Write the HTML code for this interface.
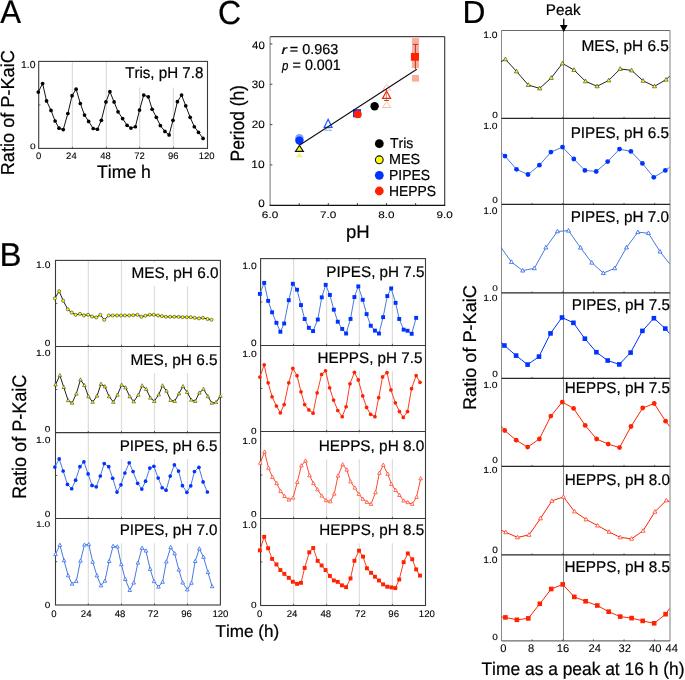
<!DOCTYPE html>
<html><head><meta charset="utf-8"><style>
html,body{margin:0;padding:0;background:#fff;}
svg{display:block;will-change:transform;}
text{font-family:"Liberation Sans",sans-serif;font-kerning:none;text-rendering:geometricPrecision;stroke:#000;}
</style></head><body>
<svg width="685" height="680" viewBox="0 0 685 680">
<rect width="685" height="680" fill="#fff"/>
<text x="0.14" y="23.4" font-size="32.7" textLength="20.82" lengthAdjust="spacingAndGlyphs" fill="#000" stroke-width="0.22">A</text>
<line x1="72.4" y1="61.4" x2="72.4" y2="148.4" stroke="#dcdcdc" stroke-width="1.2"/>
<line x1="106.4" y1="61.4" x2="106.4" y2="148.4" stroke="#dcdcdc" stroke-width="1.2"/>
<line x1="139.7" y1="87.5" x2="139.7" y2="148.4" stroke="#dcdcdc" stroke-width="1.2"/>
<line x1="173.4" y1="87.5" x2="173.4" y2="148.4" stroke="#dcdcdc" stroke-width="1.2"/>
<rect x="38.7" y="61.4" width="168.8" height="87.0" fill="none" stroke="#3a3a3a" stroke-width="1.1"/>
<line x1="38.7" y1="104.9" x2="40.5" y2="104.9" stroke="#3a3a3a" stroke-width="0.8"/>
<line x1="72.4" y1="148.4" x2="72.4" y2="146.8" stroke="#3a3a3a" stroke-width="0.8"/>
<line x1="106.4" y1="148.4" x2="106.4" y2="146.8" stroke="#3a3a3a" stroke-width="0.8"/>
<line x1="139.7" y1="148.4" x2="139.7" y2="146.8" stroke="#3a3a3a" stroke-width="0.8"/>
<line x1="173.4" y1="148.4" x2="173.4" y2="146.8" stroke="#3a3a3a" stroke-width="0.8"/>
<polyline points="38.28,92.08 42.62,83.54 46.56,100.88 51.03,110.47 55.1,120.99 59.04,128.21 63.25,129.53 67.85,113.5 72.05,95.63 76.12,89.19 80.33,103.51 84.53,115.07 88.61,121.38 93.21,128.48 97.41,129.26 101.35,120.33 105.95,101.93 109.89,91.69 114.1,101.93 118.04,111.79 122.64,118.62 127.07,125.35 130.95,128.12 135.39,126.73 139.55,110.09 143.71,95.11 148.29,96.78 152.17,109.26 156.33,117.3 160.35,125.62 164.93,131.45 169.09,134.92 172.98,120.35 177.41,101.63 181.57,95.11 185.74,105.79 190.17,117.3 194.33,126.73 198.5,132.28 203.07,138.38" fill="none" stroke="#111" stroke-width="1.0" stroke-linejoin="round"/>
<circle cx="38.28" cy="92.08" r="1.85" fill="#000" stroke="none" stroke-width="0"/><circle cx="42.62" cy="83.54" r="1.85" fill="#000" stroke="none" stroke-width="0"/><circle cx="46.56" cy="100.88" r="1.85" fill="#000" stroke="none" stroke-width="0"/><circle cx="51.03" cy="110.47" r="1.85" fill="#000" stroke="none" stroke-width="0"/><circle cx="55.1" cy="120.99" r="1.85" fill="#000" stroke="none" stroke-width="0"/><circle cx="59.04" cy="128.21" r="1.85" fill="#000" stroke="none" stroke-width="0"/><circle cx="63.25" cy="129.53" r="1.85" fill="#000" stroke="none" stroke-width="0"/><circle cx="67.85" cy="113.5" r="1.85" fill="#000" stroke="none" stroke-width="0"/><circle cx="72.05" cy="95.63" r="1.85" fill="#000" stroke="none" stroke-width="0"/><circle cx="76.12" cy="89.19" r="1.85" fill="#000" stroke="none" stroke-width="0"/><circle cx="80.33" cy="103.51" r="1.85" fill="#000" stroke="none" stroke-width="0"/><circle cx="84.53" cy="115.07" r="1.85" fill="#000" stroke="none" stroke-width="0"/><circle cx="88.61" cy="121.38" r="1.85" fill="#000" stroke="none" stroke-width="0"/><circle cx="93.21" cy="128.48" r="1.85" fill="#000" stroke="none" stroke-width="0"/><circle cx="97.41" cy="129.26" r="1.85" fill="#000" stroke="none" stroke-width="0"/><circle cx="101.35" cy="120.33" r="1.85" fill="#000" stroke="none" stroke-width="0"/><circle cx="105.95" cy="101.93" r="1.85" fill="#000" stroke="none" stroke-width="0"/><circle cx="109.89" cy="91.69" r="1.85" fill="#000" stroke="none" stroke-width="0"/><circle cx="114.1" cy="101.93" r="1.85" fill="#000" stroke="none" stroke-width="0"/><circle cx="118.04" cy="111.79" r="1.85" fill="#000" stroke="none" stroke-width="0"/><circle cx="122.64" cy="118.62" r="1.85" fill="#000" stroke="none" stroke-width="0"/><circle cx="127.07" cy="125.35" r="1.85" fill="#000" stroke="none" stroke-width="0"/><circle cx="130.95" cy="128.12" r="1.85" fill="#000" stroke="none" stroke-width="0"/><circle cx="135.39" cy="126.73" r="1.85" fill="#000" stroke="none" stroke-width="0"/><circle cx="139.55" cy="110.09" r="1.85" fill="#000" stroke="none" stroke-width="0"/><circle cx="143.71" cy="95.11" r="1.85" fill="#000" stroke="none" stroke-width="0"/><circle cx="148.29" cy="96.78" r="1.85" fill="#000" stroke="none" stroke-width="0"/><circle cx="152.17" cy="109.26" r="1.85" fill="#000" stroke="none" stroke-width="0"/><circle cx="156.33" cy="117.3" r="1.85" fill="#000" stroke="none" stroke-width="0"/><circle cx="160.35" cy="125.62" r="1.85" fill="#000" stroke="none" stroke-width="0"/><circle cx="164.93" cy="131.45" r="1.85" fill="#000" stroke="none" stroke-width="0"/><circle cx="169.09" cy="134.92" r="1.85" fill="#000" stroke="none" stroke-width="0"/><circle cx="172.98" cy="120.35" r="1.85" fill="#000" stroke="none" stroke-width="0"/><circle cx="177.41" cy="101.63" r="1.85" fill="#000" stroke="none" stroke-width="0"/><circle cx="181.57" cy="95.11" r="1.85" fill="#000" stroke="none" stroke-width="0"/><circle cx="185.74" cy="105.79" r="1.85" fill="#000" stroke="none" stroke-width="0"/><circle cx="190.17" cy="117.3" r="1.85" fill="#000" stroke="none" stroke-width="0"/><circle cx="194.33" cy="126.73" r="1.85" fill="#000" stroke="none" stroke-width="0"/><circle cx="198.5" cy="132.28" r="1.85" fill="#000" stroke="none" stroke-width="0"/><circle cx="203.07" cy="138.38" r="1.85" fill="#000" stroke="none" stroke-width="0"/>
<text x="125.16" y="77.7" font-size="15.7" textLength="78.2" lengthAdjust="spacingAndGlyphs" fill="#000" stroke-width="0.22">Tris, pH 7.8</text>
<text x="21.01" y="67.9" font-size="10.17" textLength="14.5" lengthAdjust="spacingAndGlyphs" fill="#000" stroke-width="0.1">1.0</text>
<text x="30" y="149.1" font-size="7.88" textLength="5.7" lengthAdjust="spacingAndGlyphs" fill="#000" stroke-width="0.1">0</text>
<text x="36.07" y="158.7" font-size="9.46" textLength="5.26" lengthAdjust="spacingAndGlyphs" fill="#000" stroke-width="0.1">0</text>
<text x="66.14" y="158.7" font-size="9.46" textLength="10.52" lengthAdjust="spacingAndGlyphs" fill="#000" stroke-width="0.1">24</text>
<text x="100.24" y="158.7" font-size="9.46" textLength="10.52" lengthAdjust="spacingAndGlyphs" fill="#000" stroke-width="0.1">48</text>
<text x="134.34" y="158.7" font-size="9.46" textLength="10.52" lengthAdjust="spacingAndGlyphs" fill="#000" stroke-width="0.1">72</text>
<text x="167.93" y="158.7" font-size="9.46" textLength="10.52" lengthAdjust="spacingAndGlyphs" fill="#000" stroke-width="0.1">96</text>
<text x="198.74" y="158.7" font-size="9.46" textLength="15.78" lengthAdjust="spacingAndGlyphs" fill="#000" stroke-width="0.1">120</text>
<text x="97" y="178.4" font-size="18.17" textLength="53.94" lengthAdjust="spacingAndGlyphs" fill="#000" stroke-width="0.22">Time h</text>
<g transform="rotate(-90)"><text x="-175.29" y="13.8" font-size="18.75" textLength="125.08" lengthAdjust="spacingAndGlyphs" fill="#000" stroke-width="0.22">Ratio of P-KaiC</text></g>
<text x="218.07" y="23.6" font-size="33.33" textLength="23.15" lengthAdjust="spacingAndGlyphs" fill="#000" stroke-width="0.22">C</text>
<line x1="270.1" y1="36.6" x2="444.7" y2="36.6" stroke="#444" stroke-width="1.1"/>
<line x1="444.7" y1="36.6" x2="444.7" y2="205.3" stroke="#333" stroke-width="1.1"/>
<line x1="270.1" y1="36.6" x2="270.1" y2="205.3" stroke="#8c8c8c" stroke-width="1.2"/>
<line x1="269.6" y1="205.3" x2="445.2" y2="205.3" stroke="#111" stroke-width="1.2"/>
<line x1="270.1" y1="164.95" x2="272.4" y2="164.95" stroke="#333" stroke-width="0.9"/>
<line x1="270.1" y1="124.6" x2="272.4" y2="124.6" stroke="#333" stroke-width="0.9"/>
<line x1="270.1" y1="84.25" x2="272.4" y2="84.25" stroke="#333" stroke-width="0.9"/>
<line x1="270.1" y1="43.9" x2="272.4" y2="43.9" stroke="#333" stroke-width="0.9"/>
<line x1="299.2" y1="205.3" x2="299.2" y2="203" stroke="#333" stroke-width="0.9"/>
<line x1="328.3" y1="205.3" x2="328.3" y2="203" stroke="#333" stroke-width="0.9"/>
<line x1="357.4" y1="205.3" x2="357.4" y2="203" stroke="#333" stroke-width="0.9"/>
<line x1="386.5" y1="205.3" x2="386.5" y2="203" stroke="#333" stroke-width="0.9"/>
<line x1="415.6" y1="205.3" x2="415.6" y2="203" stroke="#333" stroke-width="0.9"/>
<text x="258.24" y="206.95" font-size="10.74" textLength="6.52" lengthAdjust="spacingAndGlyphs" fill="#000" stroke-width="0.1">0</text>
<text x="251.38" y="167.55" font-size="10.74" textLength="13.39" lengthAdjust="spacingAndGlyphs" fill="#000" stroke-width="0.1">10</text>
<text x="251.71" y="127.85" font-size="10.74" textLength="13.05" lengthAdjust="spacingAndGlyphs" fill="#000" stroke-width="0.1">20</text>
<text x="251.86" y="88.25" font-size="10.74" textLength="12.89" lengthAdjust="spacingAndGlyphs" fill="#000" stroke-width="0.1">30</text>
<text x="252.04" y="48.75" font-size="10.74" textLength="12.71" lengthAdjust="spacingAndGlyphs" fill="#000" stroke-width="0.1">40</text>
<text x="261.85" y="218.4" font-size="9.46" textLength="16.36" lengthAdjust="spacingAndGlyphs" fill="#000" stroke-width="0.1">6.0</text>
<text x="320.05" y="218.4" font-size="9.46" textLength="16.36" lengthAdjust="spacingAndGlyphs" fill="#000" stroke-width="0.1">7.0</text>
<text x="378.34" y="218.4" font-size="9.46" textLength="16.27" lengthAdjust="spacingAndGlyphs" fill="#000" stroke-width="0.1">8.0</text>
<text x="436.5" y="218.4" font-size="9.46" textLength="16.31" lengthAdjust="spacingAndGlyphs" fill="#000" stroke-width="0.1">9.0</text>
<text x="345.9" y="238.2" font-size="18.31" textLength="23.71" lengthAdjust="spacingAndGlyphs" fill="#000" stroke-width="0.22">pH</text>
<g transform="rotate(-90)"><text x="-161.43" y="243.6" font-size="19.33" textLength="76.3" lengthAdjust="spacingAndGlyphs" fill="#000" stroke-width="0.22">Period (h)</text></g>
<text x="281.42" y="53.6" font-size="12.45" textLength="5.52" lengthAdjust="spacingAndGlyphs" font-style="italic" fill="#000" stroke-width="0.22">r</text>
<text x="289.8" y="53.6" font-size="14.33" textLength="48.54" lengthAdjust="spacingAndGlyphs" fill="#000" stroke-width="0.22">= 0.963</text>
<text x="281.99" y="69.9" font-size="13.02" textLength="6.38" lengthAdjust="spacingAndGlyphs" font-style="italic" fill="#000" stroke-width="0.22">p</text>
<text x="292.6" y="69.9" font-size="15.04" textLength="48.1" lengthAdjust="spacingAndGlyphs" fill="#000" stroke-width="0.22">= 0.001</text>
<circle cx="299.4" cy="138.3" r="4.2" fill="#5f86ff" opacity="0.8"/>
<circle cx="299.4" cy="140.6" r="4.2" fill="#0033ff"/>
<path d="M299.5,152.6L303.3,157.2L295.7,157.2Z" fill="#f6f08a"/>
<path d="M299.4,145.4L303.4,151.4L295.4,151.4Z" fill="#ffff00" stroke="#111" stroke-width="1.1" stroke-linejoin="miter"/>
<path d="M328.1,128.2L331.6,130.6L324.6,130.6Z" fill="none" stroke="#9ab4ff" stroke-width="0.9"/>
<path d="M328.1,119.3L332.0,127.4L324.2,127.4Z" fill="none" stroke="#1f55ff" stroke-width="1.2"/>
<rect x="353" y="109.2" width="8" height="8" fill="#0033ff"/>
<circle cx="357.7" cy="114.2" r="4.0" fill="#ff2200"/>
<circle cx="374.6" cy="106.2" r="4.2" fill="#000"/>
<path d="M386.6,84.3L390.8,90.2L382.4,90.2Z" fill="none" stroke="#ffb4a4" stroke-width="0.9"/>
<path d="M386.6,101.5L390.8,107.5L382.4,107.5Z" fill="none" stroke="#ffb4a4" stroke-width="0.9"/>
<line x1="386.5" y1="88.5" x2="386.5" y2="100.5" stroke="#999" stroke-width="0.8"/>
<line x1="384" y1="100.5" x2="389" y2="100.5" stroke="#a04030" stroke-width="0.9"/>
<path d="M386.6,91.0L390.6,98.4L382.6,98.4Z" fill="none" stroke="#ff2200" stroke-width="1.2"/>
<rect x="412" y="38.1" width="7" height="30" fill="#ffab99"/>
<rect x="412" y="75" width="7" height="6.7" fill="#ffab99"/>
<line x1="415.4" y1="44.4" x2="415.4" y2="69" stroke="#a04030" stroke-width="1.0"/>
<line x1="413.1" y1="44.4" x2="418.2" y2="44.4" stroke="#a04030" stroke-width="1.0"/>
<rect x="410.9" y="53" width="8.1" height="7.7" fill="#ff2200"/>
<line x1="299" y1="145.4" x2="416.8" y2="69.3" stroke="#111" stroke-width="1.15"/>
<circle cx="379.3" cy="143.7" r="4.4" fill="#000"/>
<circle cx="379.3" cy="159.8" r="3.9" fill="#ffff00" stroke="#111" stroke-width="1.1"/>
<circle cx="379.3" cy="175.3" r="4.4" fill="#0033ff"/>
<circle cx="379.3" cy="191.0" r="4.4" fill="#ff2200"/>
<text x="389.88" y="148.2" font-size="14.39" textLength="23.42" lengthAdjust="spacingAndGlyphs" fill="#000" stroke-width="0.22">Tris</text>
<text x="389.02" y="164" font-size="14.53" textLength="31.14" lengthAdjust="spacingAndGlyphs" fill="#000" stroke-width="0.22">MES</text>
<text x="389.06" y="179.8" font-size="14.53" textLength="41.08" lengthAdjust="spacingAndGlyphs" fill="#000" stroke-width="0.22">PIPES</text>
<text x="389.06" y="195.5" font-size="14.53" textLength="47.08" lengthAdjust="spacingAndGlyphs" fill="#000" stroke-width="0.22">HEPPS</text>
<text x="-0.61" y="265.9" font-size="32.99" textLength="22.06" lengthAdjust="spacingAndGlyphs" fill="#000" stroke-width="0.22">B</text>
<g transform="rotate(-90)"><text x="-499.08" y="25.9" font-size="19.62" textLength="124.47" lengthAdjust="spacingAndGlyphs" fill="#000" stroke-width="0.22">Ratio of P-KaiC</text></g>
<line x1="88.3" y1="260.4" x2="88.3" y2="346.4" stroke="#dcdcdc" stroke-width="1.2"/>
<line x1="121.5" y1="260.4" x2="121.5" y2="346.4" stroke="#dcdcdc" stroke-width="1.2"/>
<line x1="154.5" y1="260.4" x2="154.5" y2="262.4" stroke="#dcdcdc" stroke-width="1.2"/>
<line x1="154.5" y1="286.2" x2="154.5" y2="346.4" stroke="#dcdcdc" stroke-width="1.2"/>
<line x1="187.5" y1="260.4" x2="187.5" y2="262.4" stroke="#dcdcdc" stroke-width="1.2"/>
<line x1="187.5" y1="286.2" x2="187.5" y2="346.4" stroke="#dcdcdc" stroke-width="1.2"/>
<line x1="88.3" y1="346.4" x2="88.3" y2="432.6" stroke="#dcdcdc" stroke-width="1.2"/>
<line x1="121.5" y1="346.4" x2="121.5" y2="432.6" stroke="#dcdcdc" stroke-width="1.2"/>
<line x1="154.5" y1="346.4" x2="154.5" y2="348.4" stroke="#dcdcdc" stroke-width="1.2"/>
<line x1="154.5" y1="373.1" x2="154.5" y2="432.6" stroke="#dcdcdc" stroke-width="1.2"/>
<line x1="187.5" y1="346.4" x2="187.5" y2="348.4" stroke="#dcdcdc" stroke-width="1.2"/>
<line x1="187.5" y1="373.1" x2="187.5" y2="432.6" stroke="#dcdcdc" stroke-width="1.2"/>
<line x1="88.3" y1="432.6" x2="88.3" y2="518.4" stroke="#dcdcdc" stroke-width="1.2"/>
<line x1="121.5" y1="432.6" x2="121.5" y2="434.6" stroke="#dcdcdc" stroke-width="1.2"/>
<line x1="121.5" y1="458.9" x2="121.5" y2="518.4" stroke="#dcdcdc" stroke-width="1.2"/>
<line x1="154.5" y1="432.6" x2="154.5" y2="434.6" stroke="#dcdcdc" stroke-width="1.2"/>
<line x1="154.5" y1="458.9" x2="154.5" y2="518.4" stroke="#dcdcdc" stroke-width="1.2"/>
<line x1="187.5" y1="432.6" x2="187.5" y2="434.6" stroke="#dcdcdc" stroke-width="1.2"/>
<line x1="187.5" y1="458.9" x2="187.5" y2="518.4" stroke="#dcdcdc" stroke-width="1.2"/>
<line x1="88.3" y1="518.4" x2="88.3" y2="605" stroke="#dcdcdc" stroke-width="1.2"/>
<line x1="121.5" y1="518.4" x2="121.5" y2="520.4" stroke="#dcdcdc" stroke-width="1.2"/>
<line x1="121.5" y1="543.3" x2="121.5" y2="605" stroke="#dcdcdc" stroke-width="1.2"/>
<line x1="154.5" y1="518.4" x2="154.5" y2="520.4" stroke="#dcdcdc" stroke-width="1.2"/>
<line x1="154.5" y1="543.3" x2="154.5" y2="605" stroke="#dcdcdc" stroke-width="1.2"/>
<line x1="187.5" y1="518.4" x2="187.5" y2="520.4" stroke="#dcdcdc" stroke-width="1.2"/>
<line x1="187.5" y1="543.3" x2="187.5" y2="605" stroke="#dcdcdc" stroke-width="1.2"/>
<line x1="55.5" y1="303.4" x2="57.3" y2="303.4" stroke="#3a3a3a" stroke-width="0.8"/>
<line x1="88.3" y1="346.4" x2="88.3" y2="344.8" stroke="#3a3a3a" stroke-width="0.8"/>
<line x1="121.5" y1="346.4" x2="121.5" y2="344.8" stroke="#3a3a3a" stroke-width="0.8"/>
<line x1="154.5" y1="346.4" x2="154.5" y2="344.8" stroke="#3a3a3a" stroke-width="0.8"/>
<line x1="187.5" y1="346.4" x2="187.5" y2="344.8" stroke="#3a3a3a" stroke-width="0.8"/>
<line x1="55.5" y1="389.5" x2="57.3" y2="389.5" stroke="#3a3a3a" stroke-width="0.8"/>
<line x1="88.3" y1="432.6" x2="88.3" y2="431" stroke="#3a3a3a" stroke-width="0.8"/>
<line x1="121.5" y1="432.6" x2="121.5" y2="431" stroke="#3a3a3a" stroke-width="0.8"/>
<line x1="154.5" y1="432.6" x2="154.5" y2="431" stroke="#3a3a3a" stroke-width="0.8"/>
<line x1="187.5" y1="432.6" x2="187.5" y2="431" stroke="#3a3a3a" stroke-width="0.8"/>
<line x1="55.5" y1="475.5" x2="57.3" y2="475.5" stroke="#3a3a3a" stroke-width="0.8"/>
<line x1="88.3" y1="518.4" x2="88.3" y2="516.8" stroke="#3a3a3a" stroke-width="0.8"/>
<line x1="121.5" y1="518.4" x2="121.5" y2="516.8" stroke="#3a3a3a" stroke-width="0.8"/>
<line x1="154.5" y1="518.4" x2="154.5" y2="516.8" stroke="#3a3a3a" stroke-width="0.8"/>
<line x1="187.5" y1="518.4" x2="187.5" y2="516.8" stroke="#3a3a3a" stroke-width="0.8"/>
<line x1="55.5" y1="561.7" x2="57.3" y2="561.7" stroke="#3a3a3a" stroke-width="0.8"/>
<line x1="88.3" y1="605" x2="88.3" y2="603.4" stroke="#3a3a3a" stroke-width="0.8"/>
<line x1="121.5" y1="605" x2="121.5" y2="603.4" stroke="#3a3a3a" stroke-width="0.8"/>
<line x1="154.5" y1="605" x2="154.5" y2="603.4" stroke="#3a3a3a" stroke-width="0.8"/>
<line x1="187.5" y1="605" x2="187.5" y2="603.4" stroke="#3a3a3a" stroke-width="0.8"/>
<rect x="55.5" y="260.4" width="164.9" height="344.6" fill="none" stroke="#3a3a3a" stroke-width="1.1"/>
<line x1="55.5" y1="346.4" x2="220.4" y2="346.4" stroke="#3a3a3a" stroke-width="1.05"/>
<line x1="55.5" y1="432.6" x2="220.4" y2="432.6" stroke="#3a3a3a" stroke-width="1.05"/>
<line x1="55.5" y1="518.4" x2="220.4" y2="518.4" stroke="#3a3a3a" stroke-width="1.05"/>
<line x1="293.6" y1="258.6" x2="293.6" y2="345.4" stroke="#dcdcdc" stroke-width="1.2"/>
<line x1="326.6" y1="258.6" x2="326.6" y2="260.6" stroke="#dcdcdc" stroke-width="1.2"/>
<line x1="326.6" y1="285.2" x2="326.6" y2="345.4" stroke="#dcdcdc" stroke-width="1.2"/>
<line x1="359.3" y1="258.6" x2="359.3" y2="260.6" stroke="#dcdcdc" stroke-width="1.2"/>
<line x1="359.3" y1="285.2" x2="359.3" y2="345.4" stroke="#dcdcdc" stroke-width="1.2"/>
<line x1="392.4" y1="258.6" x2="392.4" y2="260.6" stroke="#dcdcdc" stroke-width="1.2"/>
<line x1="392.4" y1="285.2" x2="392.4" y2="345.4" stroke="#dcdcdc" stroke-width="1.2"/>
<line x1="293.6" y1="345.4" x2="293.6" y2="431.5" stroke="#dcdcdc" stroke-width="1.2"/>
<line x1="326.6" y1="345.4" x2="326.6" y2="347.4" stroke="#dcdcdc" stroke-width="1.2"/>
<line x1="326.6" y1="371.2" x2="326.6" y2="431.5" stroke="#dcdcdc" stroke-width="1.2"/>
<line x1="359.3" y1="345.4" x2="359.3" y2="347.4" stroke="#dcdcdc" stroke-width="1.2"/>
<line x1="359.3" y1="371.2" x2="359.3" y2="431.5" stroke="#dcdcdc" stroke-width="1.2"/>
<line x1="392.4" y1="345.4" x2="392.4" y2="347.4" stroke="#dcdcdc" stroke-width="1.2"/>
<line x1="392.4" y1="371.2" x2="392.4" y2="431.5" stroke="#dcdcdc" stroke-width="1.2"/>
<line x1="293.6" y1="431.5" x2="293.6" y2="518.4" stroke="#dcdcdc" stroke-width="1.2"/>
<line x1="326.6" y1="431.5" x2="326.6" y2="433.5" stroke="#dcdcdc" stroke-width="1.2"/>
<line x1="326.6" y1="459.2" x2="326.6" y2="518.4" stroke="#dcdcdc" stroke-width="1.2"/>
<line x1="359.3" y1="431.5" x2="359.3" y2="433.5" stroke="#dcdcdc" stroke-width="1.2"/>
<line x1="359.3" y1="459.2" x2="359.3" y2="518.4" stroke="#dcdcdc" stroke-width="1.2"/>
<line x1="392.4" y1="431.5" x2="392.4" y2="433.5" stroke="#dcdcdc" stroke-width="1.2"/>
<line x1="392.4" y1="459.2" x2="392.4" y2="518.4" stroke="#dcdcdc" stroke-width="1.2"/>
<line x1="293.6" y1="518.4" x2="293.6" y2="605.5" stroke="#dcdcdc" stroke-width="1.2"/>
<line x1="326.6" y1="518.4" x2="326.6" y2="520.4" stroke="#dcdcdc" stroke-width="1.2"/>
<line x1="326.6" y1="543.3" x2="326.6" y2="605.5" stroke="#dcdcdc" stroke-width="1.2"/>
<line x1="359.3" y1="518.4" x2="359.3" y2="520.4" stroke="#dcdcdc" stroke-width="1.2"/>
<line x1="359.3" y1="543.3" x2="359.3" y2="605.5" stroke="#dcdcdc" stroke-width="1.2"/>
<line x1="392.4" y1="518.4" x2="392.4" y2="520.4" stroke="#dcdcdc" stroke-width="1.2"/>
<line x1="392.4" y1="543.3" x2="392.4" y2="605.5" stroke="#dcdcdc" stroke-width="1.2"/>
<line x1="260.6" y1="302" x2="262.4" y2="302" stroke="#3a3a3a" stroke-width="0.8"/>
<line x1="293.6" y1="345.4" x2="293.6" y2="343.8" stroke="#3a3a3a" stroke-width="0.8"/>
<line x1="326.6" y1="345.4" x2="326.6" y2="343.8" stroke="#3a3a3a" stroke-width="0.8"/>
<line x1="359.3" y1="345.4" x2="359.3" y2="343.8" stroke="#3a3a3a" stroke-width="0.8"/>
<line x1="392.4" y1="345.4" x2="392.4" y2="343.8" stroke="#3a3a3a" stroke-width="0.8"/>
<line x1="260.6" y1="388.45" x2="262.4" y2="388.45" stroke="#3a3a3a" stroke-width="0.8"/>
<line x1="293.6" y1="431.5" x2="293.6" y2="429.9" stroke="#3a3a3a" stroke-width="0.8"/>
<line x1="326.6" y1="431.5" x2="326.6" y2="429.9" stroke="#3a3a3a" stroke-width="0.8"/>
<line x1="359.3" y1="431.5" x2="359.3" y2="429.9" stroke="#3a3a3a" stroke-width="0.8"/>
<line x1="392.4" y1="431.5" x2="392.4" y2="429.9" stroke="#3a3a3a" stroke-width="0.8"/>
<line x1="260.6" y1="474.95" x2="262.4" y2="474.95" stroke="#3a3a3a" stroke-width="0.8"/>
<line x1="293.6" y1="518.4" x2="293.6" y2="516.8" stroke="#3a3a3a" stroke-width="0.8"/>
<line x1="326.6" y1="518.4" x2="326.6" y2="516.8" stroke="#3a3a3a" stroke-width="0.8"/>
<line x1="359.3" y1="518.4" x2="359.3" y2="516.8" stroke="#3a3a3a" stroke-width="0.8"/>
<line x1="392.4" y1="518.4" x2="392.4" y2="516.8" stroke="#3a3a3a" stroke-width="0.8"/>
<line x1="260.6" y1="561.95" x2="262.4" y2="561.95" stroke="#3a3a3a" stroke-width="0.8"/>
<line x1="293.6" y1="605.5" x2="293.6" y2="603.9" stroke="#3a3a3a" stroke-width="0.8"/>
<line x1="326.6" y1="605.5" x2="326.6" y2="603.9" stroke="#3a3a3a" stroke-width="0.8"/>
<line x1="359.3" y1="605.5" x2="359.3" y2="603.9" stroke="#3a3a3a" stroke-width="0.8"/>
<line x1="392.4" y1="605.5" x2="392.4" y2="603.9" stroke="#3a3a3a" stroke-width="0.8"/>
<rect x="260.6" y="258.6" width="164.89999999999998" height="346.9" fill="none" stroke="#3a3a3a" stroke-width="1.1"/>
<line x1="260.6" y1="345.4" x2="425.5" y2="345.4" stroke="#3a3a3a" stroke-width="1.05"/>
<line x1="260.6" y1="431.5" x2="425.5" y2="431.5" stroke="#3a3a3a" stroke-width="1.05"/>
<line x1="260.6" y1="518.4" x2="425.5" y2="518.4" stroke="#3a3a3a" stroke-width="1.05"/>
<polyline points="54.86,298.39 59.2,291.17 63.14,300.63 67.74,309.3 71.68,312.58 75.62,314.82 79.96,313.9 83.9,315.47 88.1,314.82 92.04,316.53 96.25,317.45 100.32,314.82 104.26,319.81 108.73,315.47 112.67,315.47 117.01,315.47 120.95,315.47 124.89,315.47 129.23,315.47 133.28,315.21 137.49,314.82 141.43,316.79 145.37,315.74 149.71,314.82 153.65,314.82 157.99,315.47 161.93,316.13 165.87,316.79 170.07,316.79 174.28,316.79 178.61,316.79 182.56,317.18 186.76,317.18 190.7,317.18 194.64,317.84 198.98,318.37 202.92,317.84 207.52,319.02 211.46,319.81" fill="none" stroke="#222" stroke-width="1.0" stroke-linejoin="round"/>
<circle cx="54.86" cy="298.39" r="1.55" fill="#ffff00" stroke="#333" stroke-width="0.6"/><circle cx="59.2" cy="291.17" r="1.55" fill="#ffff00" stroke="#333" stroke-width="0.6"/><circle cx="63.14" cy="300.63" r="1.55" fill="#ffff00" stroke="#333" stroke-width="0.6"/><circle cx="67.74" cy="309.3" r="1.55" fill="#ffff00" stroke="#333" stroke-width="0.6"/><circle cx="71.68" cy="312.58" r="1.55" fill="#ffff00" stroke="#333" stroke-width="0.6"/><circle cx="75.62" cy="314.82" r="1.55" fill="#ffff00" stroke="#333" stroke-width="0.6"/><circle cx="79.96" cy="313.9" r="1.55" fill="#ffff00" stroke="#333" stroke-width="0.6"/><circle cx="83.9" cy="315.47" r="1.55" fill="#ffff00" stroke="#333" stroke-width="0.6"/><circle cx="88.1" cy="314.82" r="1.55" fill="#ffff00" stroke="#333" stroke-width="0.6"/><circle cx="92.04" cy="316.53" r="1.55" fill="#ffff00" stroke="#333" stroke-width="0.6"/><circle cx="96.25" cy="317.45" r="1.55" fill="#ffff00" stroke="#333" stroke-width="0.6"/><circle cx="100.32" cy="314.82" r="1.55" fill="#ffff00" stroke="#333" stroke-width="0.6"/><circle cx="104.26" cy="319.81" r="1.55" fill="#ffff00" stroke="#333" stroke-width="0.6"/><circle cx="108.73" cy="315.47" r="1.55" fill="#ffff00" stroke="#333" stroke-width="0.6"/><circle cx="112.67" cy="315.47" r="1.55" fill="#ffff00" stroke="#333" stroke-width="0.6"/><circle cx="117.01" cy="315.47" r="1.55" fill="#ffff00" stroke="#333" stroke-width="0.6"/><circle cx="120.95" cy="315.47" r="1.55" fill="#ffff00" stroke="#333" stroke-width="0.6"/><circle cx="124.89" cy="315.47" r="1.55" fill="#ffff00" stroke="#333" stroke-width="0.6"/><circle cx="129.23" cy="315.47" r="1.55" fill="#ffff00" stroke="#333" stroke-width="0.6"/><circle cx="133.28" cy="315.21" r="1.55" fill="#ffff00" stroke="#333" stroke-width="0.6"/><circle cx="137.49" cy="314.82" r="1.55" fill="#ffff00" stroke="#333" stroke-width="0.6"/><circle cx="141.43" cy="316.79" r="1.55" fill="#ffff00" stroke="#333" stroke-width="0.6"/><circle cx="145.37" cy="315.74" r="1.55" fill="#ffff00" stroke="#333" stroke-width="0.6"/><circle cx="149.71" cy="314.82" r="1.55" fill="#ffff00" stroke="#333" stroke-width="0.6"/><circle cx="153.65" cy="314.82" r="1.55" fill="#ffff00" stroke="#333" stroke-width="0.6"/><circle cx="157.99" cy="315.47" r="1.55" fill="#ffff00" stroke="#333" stroke-width="0.6"/><circle cx="161.93" cy="316.13" r="1.55" fill="#ffff00" stroke="#333" stroke-width="0.6"/><circle cx="165.87" cy="316.79" r="1.55" fill="#ffff00" stroke="#333" stroke-width="0.6"/><circle cx="170.07" cy="316.79" r="1.55" fill="#ffff00" stroke="#333" stroke-width="0.6"/><circle cx="174.28" cy="316.79" r="1.55" fill="#ffff00" stroke="#333" stroke-width="0.6"/><circle cx="178.61" cy="316.79" r="1.55" fill="#ffff00" stroke="#333" stroke-width="0.6"/><circle cx="182.56" cy="317.18" r="1.55" fill="#ffff00" stroke="#333" stroke-width="0.6"/><circle cx="186.76" cy="317.18" r="1.55" fill="#ffff00" stroke="#333" stroke-width="0.6"/><circle cx="190.7" cy="317.18" r="1.55" fill="#ffff00" stroke="#333" stroke-width="0.6"/><circle cx="194.64" cy="317.84" r="1.55" fill="#ffff00" stroke="#333" stroke-width="0.6"/><circle cx="198.98" cy="318.37" r="1.55" fill="#ffff00" stroke="#333" stroke-width="0.6"/><circle cx="202.92" cy="317.84" r="1.55" fill="#ffff00" stroke="#333" stroke-width="0.6"/><circle cx="207.52" cy="319.02" r="1.55" fill="#ffff00" stroke="#333" stroke-width="0.6"/><circle cx="211.46" cy="319.81" r="1.55" fill="#ffff00" stroke="#333" stroke-width="0.6"/>
<polyline points="55.52,384.7 59.85,375.37 63.8,387.33 68.13,400.47 72.07,402.96 76.28,393.9 80.48,379.71 84.42,385.36 88.5,396.53 92.7,402.04 97.04,395.87 100.98,384.04 104.92,386.54 109.12,396.53 113.33,402.04 117.4,394.95 121.61,384.96 125.55,387.59 129.75,396.53 133.74,401.61 138.32,394.95 142.21,385.66 146.23,389.13 150.39,397.86 154.27,401.19 158.71,394.67 162.59,385.66 166.48,390.93 170.64,400.22 174.66,401.19 178.96,393.56 182.98,386.35 187.14,392.18 191.3,399.94 195.19,401.19 199.35,392.87 203.51,389.13 207.95,396.48 211.83,403 215.99,402.3 220.43,396.06" fill="none" stroke="#222" stroke-width="1.0" stroke-linejoin="round"/>
<path d="M55.52,382.76L57.32,386L53.72,386Z" fill="#ffff00" stroke="#333" stroke-width="0.55" stroke-linejoin="miter"/><path d="M59.85,373.43L61.65,376.67L58.05,376.67Z" fill="#ffff00" stroke="#333" stroke-width="0.55" stroke-linejoin="miter"/><path d="M63.8,385.38L65.6,388.62L62,388.62Z" fill="#ffff00" stroke="#333" stroke-width="0.55" stroke-linejoin="miter"/><path d="M68.13,398.52L69.93,401.76L66.33,401.76Z" fill="#ffff00" stroke="#333" stroke-width="0.55" stroke-linejoin="miter"/><path d="M72.07,401.02L73.87,404.26L70.27,404.26Z" fill="#ffff00" stroke="#333" stroke-width="0.55" stroke-linejoin="miter"/><path d="M76.28,391.95L78.08,395.19L74.48,395.19Z" fill="#ffff00" stroke="#333" stroke-width="0.55" stroke-linejoin="miter"/><path d="M80.48,377.76L82.28,381L78.68,381Z" fill="#ffff00" stroke="#333" stroke-width="0.55" stroke-linejoin="miter"/><path d="M84.42,383.41L86.22,386.65L82.62,386.65Z" fill="#ffff00" stroke="#333" stroke-width="0.55" stroke-linejoin="miter"/><path d="M88.5,394.58L90.3,397.82L86.7,397.82Z" fill="#ffff00" stroke="#333" stroke-width="0.55" stroke-linejoin="miter"/><path d="M92.7,400.1L94.5,403.34L90.9,403.34Z" fill="#ffff00" stroke="#333" stroke-width="0.55" stroke-linejoin="miter"/><path d="M97.04,393.93L98.84,397.17L95.24,397.17Z" fill="#ffff00" stroke="#333" stroke-width="0.55" stroke-linejoin="miter"/><path d="M100.98,382.1L102.78,385.34L99.18,385.34Z" fill="#ffff00" stroke="#333" stroke-width="0.55" stroke-linejoin="miter"/><path d="M104.92,384.6L106.72,387.84L103.12,387.84Z" fill="#ffff00" stroke="#333" stroke-width="0.55" stroke-linejoin="miter"/><path d="M109.12,394.58L110.92,397.82L107.32,397.82Z" fill="#ffff00" stroke="#333" stroke-width="0.55" stroke-linejoin="miter"/><path d="M113.33,400.1L115.13,403.34L111.53,403.34Z" fill="#ffff00" stroke="#333" stroke-width="0.55" stroke-linejoin="miter"/><path d="M117.4,393.01L119.2,396.25L115.6,396.25Z" fill="#ffff00" stroke="#333" stroke-width="0.55" stroke-linejoin="miter"/><path d="M121.61,383.02L123.41,386.26L119.81,386.26Z" fill="#ffff00" stroke="#333" stroke-width="0.55" stroke-linejoin="miter"/><path d="M125.55,385.65L127.35,388.89L123.75,388.89Z" fill="#ffff00" stroke="#333" stroke-width="0.55" stroke-linejoin="miter"/><path d="M129.75,394.58L131.55,397.82L127.95,397.82Z" fill="#ffff00" stroke="#333" stroke-width="0.55" stroke-linejoin="miter"/><path d="M133.74,399.66L135.54,402.9L131.94,402.9Z" fill="#ffff00" stroke="#333" stroke-width="0.55" stroke-linejoin="miter"/><path d="M138.32,393.01L140.12,396.25L136.52,396.25Z" fill="#ffff00" stroke="#333" stroke-width="0.55" stroke-linejoin="miter"/><path d="M142.21,383.71L144.01,386.95L140.41,386.95Z" fill="#ffff00" stroke="#333" stroke-width="0.55" stroke-linejoin="miter"/><path d="M146.23,387.18L148.03,390.42L144.43,390.42Z" fill="#ffff00" stroke="#333" stroke-width="0.55" stroke-linejoin="miter"/><path d="M150.39,395.92L152.19,399.16L148.59,399.16Z" fill="#ffff00" stroke="#333" stroke-width="0.55" stroke-linejoin="miter"/><path d="M154.27,399.25L156.07,402.49L152.47,402.49Z" fill="#ffff00" stroke="#333" stroke-width="0.55" stroke-linejoin="miter"/><path d="M158.71,392.73L160.51,395.97L156.91,395.97Z" fill="#ffff00" stroke="#333" stroke-width="0.55" stroke-linejoin="miter"/><path d="M162.59,383.71L164.39,386.95L160.79,386.95Z" fill="#ffff00" stroke="#333" stroke-width="0.55" stroke-linejoin="miter"/><path d="M166.48,388.99L168.28,392.23L164.68,392.23Z" fill="#ffff00" stroke="#333" stroke-width="0.55" stroke-linejoin="miter"/><path d="M170.64,398.28L172.44,401.52L168.84,401.52Z" fill="#ffff00" stroke="#333" stroke-width="0.55" stroke-linejoin="miter"/><path d="M174.66,399.25L176.46,402.49L172.86,402.49Z" fill="#ffff00" stroke="#333" stroke-width="0.55" stroke-linejoin="miter"/><path d="M178.96,391.62L180.76,394.86L177.16,394.86Z" fill="#ffff00" stroke="#333" stroke-width="0.55" stroke-linejoin="miter"/><path d="M182.98,384.41L184.78,387.65L181.18,387.65Z" fill="#ffff00" stroke="#333" stroke-width="0.55" stroke-linejoin="miter"/><path d="M187.14,390.23L188.94,393.47L185.34,393.47Z" fill="#ffff00" stroke="#333" stroke-width="0.55" stroke-linejoin="miter"/><path d="M191.3,398L193.1,401.24L189.5,401.24Z" fill="#ffff00" stroke="#333" stroke-width="0.55" stroke-linejoin="miter"/><path d="M195.19,399.25L196.99,402.49L193.39,402.49Z" fill="#ffff00" stroke="#333" stroke-width="0.55" stroke-linejoin="miter"/><path d="M199.35,390.93L201.15,394.17L197.55,394.17Z" fill="#ffff00" stroke="#333" stroke-width="0.55" stroke-linejoin="miter"/><path d="M203.51,387.18L205.31,390.42L201.71,390.42Z" fill="#ffff00" stroke="#333" stroke-width="0.55" stroke-linejoin="miter"/><path d="M207.95,394.53L209.75,397.77L206.15,397.77Z" fill="#ffff00" stroke="#333" stroke-width="0.55" stroke-linejoin="miter"/><path d="M211.83,401.05L213.63,404.29L210.03,404.29Z" fill="#ffff00" stroke="#333" stroke-width="0.55" stroke-linejoin="miter"/><path d="M215.99,400.36L217.79,403.6L214.19,403.6Z" fill="#ffff00" stroke="#333" stroke-width="0.55" stroke-linejoin="miter"/><path d="M220.43,394.12L222.23,397.36L218.63,397.36Z" fill="#ffff00" stroke="#333" stroke-width="0.55" stroke-linejoin="miter"/>
<polyline points="54.86,467.08 59.2,458.93 63.14,471.02 67.47,484.42 71.68,488.76 75.62,480.22 79.96,466.69 83.9,461.82 88.1,473.91 92.04,485.47 96.25,486.79 100.32,476.01 104.26,463.53 108.73,466.69 112.67,478.25 117.01,492.04 120.95,484.82 124.89,472.99 129.23,462.74 133.05,471.5 137.63,483.29 141.79,489.11 145.53,481.21 149.83,468.03 153.86,466.23 158.16,478.02 162.18,487.73 166.06,490.22 170.22,476.07 174.38,464.84 178.54,471.08 182.43,485.64 186.87,492.3 190.75,485.78 194.49,471.5 198.93,467.34 203.09,481.9 207.39,492.02" fill="none" stroke="#4a78e0" stroke-width="1.0" stroke-linejoin="round"/>
<circle cx="54.86" cy="467.08" r="1.85" fill="#0033ff" stroke="none" stroke-width="0"/><circle cx="59.2" cy="458.93" r="1.85" fill="#0033ff" stroke="none" stroke-width="0"/><circle cx="63.14" cy="471.02" r="1.85" fill="#0033ff" stroke="none" stroke-width="0"/><circle cx="67.47" cy="484.42" r="1.85" fill="#0033ff" stroke="none" stroke-width="0"/><circle cx="71.68" cy="488.76" r="1.85" fill="#0033ff" stroke="none" stroke-width="0"/><circle cx="75.62" cy="480.22" r="1.85" fill="#0033ff" stroke="none" stroke-width="0"/><circle cx="79.96" cy="466.69" r="1.85" fill="#0033ff" stroke="none" stroke-width="0"/><circle cx="83.9" cy="461.82" r="1.85" fill="#0033ff" stroke="none" stroke-width="0"/><circle cx="88.1" cy="473.91" r="1.85" fill="#0033ff" stroke="none" stroke-width="0"/><circle cx="92.04" cy="485.47" r="1.85" fill="#0033ff" stroke="none" stroke-width="0"/><circle cx="96.25" cy="486.79" r="1.85" fill="#0033ff" stroke="none" stroke-width="0"/><circle cx="100.32" cy="476.01" r="1.85" fill="#0033ff" stroke="none" stroke-width="0"/><circle cx="104.26" cy="463.53" r="1.85" fill="#0033ff" stroke="none" stroke-width="0"/><circle cx="108.73" cy="466.69" r="1.85" fill="#0033ff" stroke="none" stroke-width="0"/><circle cx="112.67" cy="478.25" r="1.85" fill="#0033ff" stroke="none" stroke-width="0"/><circle cx="117.01" cy="492.04" r="1.85" fill="#0033ff" stroke="none" stroke-width="0"/><circle cx="120.95" cy="484.82" r="1.85" fill="#0033ff" stroke="none" stroke-width="0"/><circle cx="124.89" cy="472.99" r="1.85" fill="#0033ff" stroke="none" stroke-width="0"/><circle cx="129.23" cy="462.74" r="1.85" fill="#0033ff" stroke="none" stroke-width="0"/><circle cx="133.05" cy="471.5" r="1.85" fill="#0033ff" stroke="none" stroke-width="0"/><circle cx="137.63" cy="483.29" r="1.85" fill="#0033ff" stroke="none" stroke-width="0"/><circle cx="141.79" cy="489.11" r="1.85" fill="#0033ff" stroke="none" stroke-width="0"/><circle cx="145.53" cy="481.21" r="1.85" fill="#0033ff" stroke="none" stroke-width="0"/><circle cx="149.83" cy="468.03" r="1.85" fill="#0033ff" stroke="none" stroke-width="0"/><circle cx="153.86" cy="466.23" r="1.85" fill="#0033ff" stroke="none" stroke-width="0"/><circle cx="158.16" cy="478.02" r="1.85" fill="#0033ff" stroke="none" stroke-width="0"/><circle cx="162.18" cy="487.73" r="1.85" fill="#0033ff" stroke="none" stroke-width="0"/><circle cx="166.06" cy="490.22" r="1.85" fill="#0033ff" stroke="none" stroke-width="0"/><circle cx="170.22" cy="476.07" r="1.85" fill="#0033ff" stroke="none" stroke-width="0"/><circle cx="174.38" cy="464.84" r="1.85" fill="#0033ff" stroke="none" stroke-width="0"/><circle cx="178.54" cy="471.08" r="1.85" fill="#0033ff" stroke="none" stroke-width="0"/><circle cx="182.43" cy="485.64" r="1.85" fill="#0033ff" stroke="none" stroke-width="0"/><circle cx="186.87" cy="492.3" r="1.85" fill="#0033ff" stroke="none" stroke-width="0"/><circle cx="190.75" cy="485.78" r="1.85" fill="#0033ff" stroke="none" stroke-width="0"/><circle cx="194.49" cy="471.5" r="1.85" fill="#0033ff" stroke="none" stroke-width="0"/><circle cx="198.93" cy="467.34" r="1.85" fill="#0033ff" stroke="none" stroke-width="0"/><circle cx="203.09" cy="481.9" r="1.85" fill="#0033ff" stroke="none" stroke-width="0"/><circle cx="207.39" cy="492.02" r="1.85" fill="#0033ff" stroke="none" stroke-width="0"/>
<polyline points="55.52,554.31 59.85,545.11 64.06,560.48 68.13,575.59 72.07,583.87 76.28,581.24 80.48,560.88 84.42,544.85 88.76,544.45 92.7,561.93 96.91,575.59 100.98,585.58 104.92,580.98 109.12,561.27 113.07,546.16 117.4,546.69 121.34,564.42 125.29,579.27 129.75,590.18 133.74,582.7 137.91,562.87 142.07,548.03 145.95,550.8 150.11,569.11 153.99,581.32 158.43,586.87 162.59,582.01 166.34,561.62 170.64,547.34 174.66,553.58 178.82,569.81 182.7,582.7 187.28,589.64 191.44,582.98 195.19,561.21 199.35,548.72 203.51,557.05 207.95,572.3 212.11,586.45" fill="none" stroke="#4a78e0" stroke-width="1.0" stroke-linejoin="round"/>
<path d="M55.52,552.36L57.32,555.6L53.72,555.6Z" fill="#fff" stroke="#2f6cf0" stroke-width="0.8" stroke-linejoin="miter"/><path d="M59.85,543.17L61.65,546.41L58.05,546.41Z" fill="#fff" stroke="#2f6cf0" stroke-width="0.8" stroke-linejoin="miter"/><path d="M64.06,558.54L65.86,561.78L62.26,561.78Z" fill="#fff" stroke="#2f6cf0" stroke-width="0.8" stroke-linejoin="miter"/><path d="M68.13,573.65L69.93,576.89L66.33,576.89Z" fill="#fff" stroke="#2f6cf0" stroke-width="0.8" stroke-linejoin="miter"/><path d="M72.07,581.93L73.87,585.17L70.27,585.17Z" fill="#fff" stroke="#2f6cf0" stroke-width="0.8" stroke-linejoin="miter"/><path d="M76.28,579.3L78.08,582.54L74.48,582.54Z" fill="#fff" stroke="#2f6cf0" stroke-width="0.8" stroke-linejoin="miter"/><path d="M80.48,558.93L82.28,562.17L78.68,562.17Z" fill="#fff" stroke="#2f6cf0" stroke-width="0.8" stroke-linejoin="miter"/><path d="M84.42,542.9L86.22,546.14L82.62,546.14Z" fill="#fff" stroke="#2f6cf0" stroke-width="0.8" stroke-linejoin="miter"/><path d="M88.76,542.51L90.56,545.75L86.96,545.75Z" fill="#fff" stroke="#2f6cf0" stroke-width="0.8" stroke-linejoin="miter"/><path d="M92.7,559.98L94.5,563.22L90.9,563.22Z" fill="#fff" stroke="#2f6cf0" stroke-width="0.8" stroke-linejoin="miter"/><path d="M96.91,573.65L98.71,576.89L95.11,576.89Z" fill="#fff" stroke="#2f6cf0" stroke-width="0.8" stroke-linejoin="miter"/><path d="M100.98,583.63L102.78,586.87L99.18,586.87Z" fill="#fff" stroke="#2f6cf0" stroke-width="0.8" stroke-linejoin="miter"/><path d="M104.92,579.03L106.72,582.27L103.12,582.27Z" fill="#fff" stroke="#2f6cf0" stroke-width="0.8" stroke-linejoin="miter"/><path d="M109.12,559.33L110.92,562.57L107.32,562.57Z" fill="#fff" stroke="#2f6cf0" stroke-width="0.8" stroke-linejoin="miter"/><path d="M113.07,544.22L114.87,547.46L111.27,547.46Z" fill="#fff" stroke="#2f6cf0" stroke-width="0.8" stroke-linejoin="miter"/><path d="M117.4,544.74L119.2,547.98L115.6,547.98Z" fill="#fff" stroke="#2f6cf0" stroke-width="0.8" stroke-linejoin="miter"/><path d="M121.34,562.48L123.14,565.72L119.54,565.72Z" fill="#fff" stroke="#2f6cf0" stroke-width="0.8" stroke-linejoin="miter"/><path d="M125.29,577.33L127.09,580.57L123.49,580.57Z" fill="#fff" stroke="#2f6cf0" stroke-width="0.8" stroke-linejoin="miter"/><path d="M129.75,588.23L131.55,591.47L127.95,591.47Z" fill="#fff" stroke="#2f6cf0" stroke-width="0.8" stroke-linejoin="miter"/><path d="M133.74,580.76L135.54,584L131.94,584Z" fill="#fff" stroke="#2f6cf0" stroke-width="0.8" stroke-linejoin="miter"/><path d="M137.91,560.93L139.71,564.17L136.11,564.17Z" fill="#fff" stroke="#2f6cf0" stroke-width="0.8" stroke-linejoin="miter"/><path d="M142.07,546.09L143.87,549.33L140.27,549.33Z" fill="#fff" stroke="#2f6cf0" stroke-width="0.8" stroke-linejoin="miter"/><path d="M145.95,548.86L147.75,552.1L144.15,552.1Z" fill="#fff" stroke="#2f6cf0" stroke-width="0.8" stroke-linejoin="miter"/><path d="M150.11,567.17L151.91,570.41L148.31,570.41Z" fill="#fff" stroke="#2f6cf0" stroke-width="0.8" stroke-linejoin="miter"/><path d="M153.99,579.37L155.79,582.61L152.19,582.61Z" fill="#fff" stroke="#2f6cf0" stroke-width="0.8" stroke-linejoin="miter"/><path d="M158.43,584.92L160.23,588.16L156.63,588.16Z" fill="#fff" stroke="#2f6cf0" stroke-width="0.8" stroke-linejoin="miter"/><path d="M162.59,580.07L164.39,583.31L160.79,583.31Z" fill="#fff" stroke="#2f6cf0" stroke-width="0.8" stroke-linejoin="miter"/><path d="M166.34,559.68L168.14,562.92L164.54,562.92Z" fill="#fff" stroke="#2f6cf0" stroke-width="0.8" stroke-linejoin="miter"/><path d="M170.64,545.39L172.44,548.63L168.84,548.63Z" fill="#fff" stroke="#2f6cf0" stroke-width="0.8" stroke-linejoin="miter"/><path d="M174.66,551.63L176.46,554.87L172.86,554.87Z" fill="#fff" stroke="#2f6cf0" stroke-width="0.8" stroke-linejoin="miter"/><path d="M178.82,567.86L180.62,571.1L177.02,571.1Z" fill="#fff" stroke="#2f6cf0" stroke-width="0.8" stroke-linejoin="miter"/><path d="M182.7,580.76L184.5,584L180.9,584Z" fill="#fff" stroke="#2f6cf0" stroke-width="0.8" stroke-linejoin="miter"/><path d="M187.28,587.7L189.08,590.94L185.48,590.94Z" fill="#fff" stroke="#2f6cf0" stroke-width="0.8" stroke-linejoin="miter"/><path d="M191.44,581.04L193.24,584.28L189.64,584.28Z" fill="#fff" stroke="#2f6cf0" stroke-width="0.8" stroke-linejoin="miter"/><path d="M195.19,559.26L196.99,562.5L193.39,562.5Z" fill="#fff" stroke="#2f6cf0" stroke-width="0.8" stroke-linejoin="miter"/><path d="M199.35,546.78L201.15,550.02L197.55,550.02Z" fill="#fff" stroke="#2f6cf0" stroke-width="0.8" stroke-linejoin="miter"/><path d="M203.51,555.1L205.31,558.34L201.71,558.34Z" fill="#fff" stroke="#2f6cf0" stroke-width="0.8" stroke-linejoin="miter"/><path d="M207.95,570.36L209.75,573.6L206.15,573.6Z" fill="#fff" stroke="#2f6cf0" stroke-width="0.8" stroke-linejoin="miter"/><path d="M212.11,584.51L213.91,587.75L210.31,587.75Z" fill="#fff" stroke="#2f6cf0" stroke-width="0.8" stroke-linejoin="miter"/>
<polyline points="259.86,293.91 264.2,282.88 268.14,300.88 272.08,312.31 276.42,322.82 280.36,331.75 284.17,323.48 288.77,300.22 292.84,283.8 297.04,289.71 300.99,305.08 304.66,319.01 308.87,327.81 313.07,331.1 317.8,319.53 321.75,297.33 325.69,284.85 329.89,294.96 333.83,309.68 337.77,321.73 342.21,328.95 346.1,333.52 350.53,318.96 354.42,297.05 358.3,286.37 362.74,299.82 366.62,314.11 370.78,325.76 374.94,330.61 378.97,333.52 383.13,317.16 387.29,296.07 391.17,288.45 395.61,302.87 399.22,318.96 403.65,329.64 407.54,330.75 411.7,333.8 416.14,317.85" fill="none" stroke="#4a78e0" stroke-width="1.0" stroke-linejoin="round"/>
<rect x="257.91" y="291.96" width="3.9" height="3.9" fill="#0033ff"/><rect x="262.25" y="280.93" width="3.9" height="3.9" fill="#0033ff"/><rect x="266.19" y="298.93" width="3.9" height="3.9" fill="#0033ff"/><rect x="270.13" y="310.36" width="3.9" height="3.9" fill="#0033ff"/><rect x="274.47" y="320.87" width="3.9" height="3.9" fill="#0033ff"/><rect x="278.41" y="329.8" width="3.9" height="3.9" fill="#0033ff"/><rect x="282.22" y="321.53" width="3.9" height="3.9" fill="#0033ff"/><rect x="286.82" y="298.27" width="3.9" height="3.9" fill="#0033ff"/><rect x="290.89" y="281.85" width="3.9" height="3.9" fill="#0033ff"/><rect x="295.09" y="287.76" width="3.9" height="3.9" fill="#0033ff"/><rect x="299.04" y="303.13" width="3.9" height="3.9" fill="#0033ff"/><rect x="302.71" y="317.06" width="3.9" height="3.9" fill="#0033ff"/><rect x="306.92" y="325.86" width="3.9" height="3.9" fill="#0033ff"/><rect x="311.12" y="329.15" width="3.9" height="3.9" fill="#0033ff"/><rect x="315.85" y="317.58" width="3.9" height="3.9" fill="#0033ff"/><rect x="319.8" y="295.38" width="3.9" height="3.9" fill="#0033ff"/><rect x="323.74" y="282.9" width="3.9" height="3.9" fill="#0033ff"/><rect x="327.94" y="293.01" width="3.9" height="3.9" fill="#0033ff"/><rect x="331.88" y="307.73" width="3.9" height="3.9" fill="#0033ff"/><rect x="335.82" y="319.78" width="3.9" height="3.9" fill="#0033ff"/><rect x="340.26" y="327" width="3.9" height="3.9" fill="#0033ff"/><rect x="344.15" y="331.57" width="3.9" height="3.9" fill="#0033ff"/><rect x="348.58" y="317.01" width="3.9" height="3.9" fill="#0033ff"/><rect x="352.47" y="295.1" width="3.9" height="3.9" fill="#0033ff"/><rect x="356.35" y="284.42" width="3.9" height="3.9" fill="#0033ff"/><rect x="360.79" y="297.87" width="3.9" height="3.9" fill="#0033ff"/><rect x="364.67" y="312.16" width="3.9" height="3.9" fill="#0033ff"/><rect x="368.83" y="323.81" width="3.9" height="3.9" fill="#0033ff"/><rect x="372.99" y="328.66" width="3.9" height="3.9" fill="#0033ff"/><rect x="377.02" y="331.57" width="3.9" height="3.9" fill="#0033ff"/><rect x="381.18" y="315.21" width="3.9" height="3.9" fill="#0033ff"/><rect x="385.34" y="294.12" width="3.9" height="3.9" fill="#0033ff"/><rect x="389.22" y="286.5" width="3.9" height="3.9" fill="#0033ff"/><rect x="393.66" y="300.92" width="3.9" height="3.9" fill="#0033ff"/><rect x="397.27" y="317.01" width="3.9" height="3.9" fill="#0033ff"/><rect x="401.7" y="327.69" width="3.9" height="3.9" fill="#0033ff"/><rect x="405.59" y="328.8" width="3.9" height="3.9" fill="#0033ff"/><rect x="409.75" y="331.85" width="3.9" height="3.9" fill="#0033ff"/><rect x="414.19" y="315.9" width="3.9" height="3.9" fill="#0033ff"/>
<polyline points="259.86,377.07 264.2,364.85 268.14,382.85 272.08,396.78 276.42,405.98 280.36,412.81 284.17,404.53 288.77,382.85 292.84,368.4 297.04,375.63 300.99,391.79 304.66,404.53 308.87,409.92 313.07,413.21 317.15,392.84 321.61,374.45 325.56,370.77 329.63,387.85 333.57,400.07 337.77,410.48 342.21,416.72 346.1,406.73 349.98,383.85 354.42,372.34 358.3,379.97 362.74,395.92 366.62,407.43 370.64,414.36 374.94,416.72 378.69,397.72 382.57,376.91 387.01,372.61 390.89,389.95 395.33,402.85 399.49,411.59 403.24,417.41 407.54,411.59 411.56,388.7 416.14,375.53 420.02,382.32" fill="none" stroke="#ff3c1e" stroke-width="1.0" stroke-linejoin="round"/>
<circle cx="259.86" cy="377.07" r="1.85" fill="#ff2200" stroke="none" stroke-width="0"/><circle cx="264.2" cy="364.85" r="1.85" fill="#ff2200" stroke="none" stroke-width="0"/><circle cx="268.14" cy="382.85" r="1.85" fill="#ff2200" stroke="none" stroke-width="0"/><circle cx="272.08" cy="396.78" r="1.85" fill="#ff2200" stroke="none" stroke-width="0"/><circle cx="276.42" cy="405.98" r="1.85" fill="#ff2200" stroke="none" stroke-width="0"/><circle cx="280.36" cy="412.81" r="1.85" fill="#ff2200" stroke="none" stroke-width="0"/><circle cx="284.17" cy="404.53" r="1.85" fill="#ff2200" stroke="none" stroke-width="0"/><circle cx="288.77" cy="382.85" r="1.85" fill="#ff2200" stroke="none" stroke-width="0"/><circle cx="292.84" cy="368.4" r="1.85" fill="#ff2200" stroke="none" stroke-width="0"/><circle cx="297.04" cy="375.63" r="1.85" fill="#ff2200" stroke="none" stroke-width="0"/><circle cx="300.99" cy="391.79" r="1.85" fill="#ff2200" stroke="none" stroke-width="0"/><circle cx="304.66" cy="404.53" r="1.85" fill="#ff2200" stroke="none" stroke-width="0"/><circle cx="308.87" cy="409.92" r="1.85" fill="#ff2200" stroke="none" stroke-width="0"/><circle cx="313.07" cy="413.21" r="1.85" fill="#ff2200" stroke="none" stroke-width="0"/><circle cx="317.15" cy="392.84" r="1.85" fill="#ff2200" stroke="none" stroke-width="0"/><circle cx="321.61" cy="374.45" r="1.85" fill="#ff2200" stroke="none" stroke-width="0"/><circle cx="325.56" cy="370.77" r="1.85" fill="#ff2200" stroke="none" stroke-width="0"/><circle cx="329.63" cy="387.85" r="1.85" fill="#ff2200" stroke="none" stroke-width="0"/><circle cx="333.57" cy="400.07" r="1.85" fill="#ff2200" stroke="none" stroke-width="0"/><circle cx="337.77" cy="410.48" r="1.85" fill="#ff2200" stroke="none" stroke-width="0"/><circle cx="342.21" cy="416.72" r="1.85" fill="#ff2200" stroke="none" stroke-width="0"/><circle cx="346.1" cy="406.73" r="1.85" fill="#ff2200" stroke="none" stroke-width="0"/><circle cx="349.98" cy="383.85" r="1.85" fill="#ff2200" stroke="none" stroke-width="0"/><circle cx="354.42" cy="372.34" r="1.85" fill="#ff2200" stroke="none" stroke-width="0"/><circle cx="358.3" cy="379.97" r="1.85" fill="#ff2200" stroke="none" stroke-width="0"/><circle cx="362.74" cy="395.92" r="1.85" fill="#ff2200" stroke="none" stroke-width="0"/><circle cx="366.62" cy="407.43" r="1.85" fill="#ff2200" stroke="none" stroke-width="0"/><circle cx="370.64" cy="414.36" r="1.85" fill="#ff2200" stroke="none" stroke-width="0"/><circle cx="374.94" cy="416.72" r="1.85" fill="#ff2200" stroke="none" stroke-width="0"/><circle cx="378.69" cy="397.72" r="1.85" fill="#ff2200" stroke="none" stroke-width="0"/><circle cx="382.57" cy="376.91" r="1.85" fill="#ff2200" stroke="none" stroke-width="0"/><circle cx="387.01" cy="372.61" r="1.85" fill="#ff2200" stroke="none" stroke-width="0"/><circle cx="390.89" cy="389.95" r="1.85" fill="#ff2200" stroke="none" stroke-width="0"/><circle cx="395.33" cy="402.85" r="1.85" fill="#ff2200" stroke="none" stroke-width="0"/><circle cx="399.49" cy="411.59" r="1.85" fill="#ff2200" stroke="none" stroke-width="0"/><circle cx="403.24" cy="417.41" r="1.85" fill="#ff2200" stroke="none" stroke-width="0"/><circle cx="407.54" cy="411.59" r="1.85" fill="#ff2200" stroke="none" stroke-width="0"/><circle cx="411.56" cy="388.7" r="1.85" fill="#ff2200" stroke="none" stroke-width="0"/><circle cx="416.14" cy="375.53" r="1.85" fill="#ff2200" stroke="none" stroke-width="0"/><circle cx="420.02" cy="382.32" r="1.85" fill="#ff2200" stroke="none" stroke-width="0"/>
<polyline points="260.26,462.99 264.59,451.82 268.53,467.99 272.47,477.18 276.68,483.36 280.62,491.24 284.56,496.23 288.9,499.78 293.1,497.81 297.31,482.04 301.38,465.62 305.58,460.76 309.53,475.47 313.47,483.36 317.41,489.53 321.75,495.84 325.95,500.44 330.29,501.49 334.23,493.87 338.05,475.78 342.63,464.55 346.79,469.82 350.53,481.61 354.83,487.85 358.86,494.09 362.74,498.95 366.9,502.14 371.06,504.08 375.5,492.43 379.38,473.01 383.27,464.97 387.7,473.98 391.45,484.11 395.61,490.21 399.49,495.2 403.65,500.75 407.82,502.41 412.25,504.08 416.55,497.14 420.71,478.56" fill="none" stroke="#ff4a30" stroke-width="1.0" stroke-linejoin="round"/>
<path d="M260.26,461.05L262.06,464.29L258.46,464.29Z" fill="#fff" stroke="#ff4a30" stroke-width="0.8" stroke-linejoin="miter"/><path d="M264.59,449.88L266.39,453.12L262.79,453.12Z" fill="#fff" stroke="#ff4a30" stroke-width="0.8" stroke-linejoin="miter"/><path d="M268.53,466.04L270.33,469.28L266.73,469.28Z" fill="#fff" stroke="#ff4a30" stroke-width="0.8" stroke-linejoin="miter"/><path d="M272.47,475.24L274.27,478.48L270.67,478.48Z" fill="#fff" stroke="#ff4a30" stroke-width="0.8" stroke-linejoin="miter"/><path d="M276.68,481.41L278.48,484.65L274.88,484.65Z" fill="#fff" stroke="#ff4a30" stroke-width="0.8" stroke-linejoin="miter"/><path d="M280.62,489.3L282.42,492.54L278.82,492.54Z" fill="#fff" stroke="#ff4a30" stroke-width="0.8" stroke-linejoin="miter"/><path d="M284.56,494.29L286.36,497.53L282.76,497.53Z" fill="#fff" stroke="#ff4a30" stroke-width="0.8" stroke-linejoin="miter"/><path d="M288.9,497.84L290.7,501.08L287.1,501.08Z" fill="#fff" stroke="#ff4a30" stroke-width="0.8" stroke-linejoin="miter"/><path d="M293.1,495.87L294.9,499.11L291.3,499.11Z" fill="#fff" stroke="#ff4a30" stroke-width="0.8" stroke-linejoin="miter"/><path d="M297.31,480.1L299.11,483.34L295.51,483.34Z" fill="#fff" stroke="#ff4a30" stroke-width="0.8" stroke-linejoin="miter"/><path d="M301.38,463.68L303.18,466.92L299.58,466.92Z" fill="#fff" stroke="#ff4a30" stroke-width="0.8" stroke-linejoin="miter"/><path d="M305.58,458.82L307.38,462.06L303.78,462.06Z" fill="#fff" stroke="#ff4a30" stroke-width="0.8" stroke-linejoin="miter"/><path d="M309.53,473.53L311.33,476.77L307.73,476.77Z" fill="#fff" stroke="#ff4a30" stroke-width="0.8" stroke-linejoin="miter"/><path d="M313.47,481.41L315.27,484.65L311.67,484.65Z" fill="#fff" stroke="#ff4a30" stroke-width="0.8" stroke-linejoin="miter"/><path d="M317.41,487.59L319.21,490.83L315.61,490.83Z" fill="#fff" stroke="#ff4a30" stroke-width="0.8" stroke-linejoin="miter"/><path d="M321.75,493.9L323.55,497.14L319.95,497.14Z" fill="#fff" stroke="#ff4a30" stroke-width="0.8" stroke-linejoin="miter"/><path d="M325.95,498.49L327.75,501.73L324.15,501.73Z" fill="#fff" stroke="#ff4a30" stroke-width="0.8" stroke-linejoin="miter"/><path d="M330.29,499.55L332.09,502.79L328.49,502.79Z" fill="#fff" stroke="#ff4a30" stroke-width="0.8" stroke-linejoin="miter"/><path d="M334.23,491.93L336.03,495.17L332.43,495.17Z" fill="#fff" stroke="#ff4a30" stroke-width="0.8" stroke-linejoin="miter"/><path d="M338.05,473.84L339.85,477.08L336.25,477.08Z" fill="#fff" stroke="#ff4a30" stroke-width="0.8" stroke-linejoin="miter"/><path d="M342.63,462.61L344.43,465.85L340.83,465.85Z" fill="#fff" stroke="#ff4a30" stroke-width="0.8" stroke-linejoin="miter"/><path d="M346.79,467.88L348.59,471.12L344.99,471.12Z" fill="#fff" stroke="#ff4a30" stroke-width="0.8" stroke-linejoin="miter"/><path d="M350.53,479.66L352.33,482.9L348.73,482.9Z" fill="#fff" stroke="#ff4a30" stroke-width="0.8" stroke-linejoin="miter"/><path d="M354.83,485.91L356.63,489.15L353.03,489.15Z" fill="#fff" stroke="#ff4a30" stroke-width="0.8" stroke-linejoin="miter"/><path d="M358.86,492.15L360.66,495.39L357.06,495.39Z" fill="#fff" stroke="#ff4a30" stroke-width="0.8" stroke-linejoin="miter"/><path d="M362.74,497L364.54,500.24L360.94,500.24Z" fill="#fff" stroke="#ff4a30" stroke-width="0.8" stroke-linejoin="miter"/><path d="M366.9,500.19L368.7,503.43L365.1,503.43Z" fill="#fff" stroke="#ff4a30" stroke-width="0.8" stroke-linejoin="miter"/><path d="M371.06,502.13L372.86,505.37L369.26,505.37Z" fill="#fff" stroke="#ff4a30" stroke-width="0.8" stroke-linejoin="miter"/><path d="M375.5,490.48L377.3,493.72L373.7,493.72Z" fill="#fff" stroke="#ff4a30" stroke-width="0.8" stroke-linejoin="miter"/><path d="M379.38,471.07L381.18,474.31L377.58,474.31Z" fill="#fff" stroke="#ff4a30" stroke-width="0.8" stroke-linejoin="miter"/><path d="M383.27,463.02L385.07,466.26L381.47,466.26Z" fill="#fff" stroke="#ff4a30" stroke-width="0.8" stroke-linejoin="miter"/><path d="M387.7,472.04L389.5,475.28L385.9,475.28Z" fill="#fff" stroke="#ff4a30" stroke-width="0.8" stroke-linejoin="miter"/><path d="M391.45,482.16L393.25,485.4L389.65,485.4Z" fill="#fff" stroke="#ff4a30" stroke-width="0.8" stroke-linejoin="miter"/><path d="M395.61,488.26L397.41,491.5L393.81,491.5Z" fill="#fff" stroke="#ff4a30" stroke-width="0.8" stroke-linejoin="miter"/><path d="M399.49,493.26L401.29,496.5L397.69,496.5Z" fill="#fff" stroke="#ff4a30" stroke-width="0.8" stroke-linejoin="miter"/><path d="M403.65,498.8L405.45,502.04L401.85,502.04Z" fill="#fff" stroke="#ff4a30" stroke-width="0.8" stroke-linejoin="miter"/><path d="M407.82,500.47L409.62,503.71L406.02,503.71Z" fill="#fff" stroke="#ff4a30" stroke-width="0.8" stroke-linejoin="miter"/><path d="M412.25,502.13L414.05,505.37L410.45,505.37Z" fill="#fff" stroke="#ff4a30" stroke-width="0.8" stroke-linejoin="miter"/><path d="M416.55,495.2L418.35,498.44L414.75,498.44Z" fill="#fff" stroke="#ff4a30" stroke-width="0.8" stroke-linejoin="miter"/><path d="M420.71,476.61L422.51,479.85L418.91,479.85Z" fill="#fff" stroke="#ff4a30" stroke-width="0.8" stroke-linejoin="miter"/>
<polyline points="259.86,550.36 264.2,536.82 268.14,548.26 272.08,558.9 276.42,564.42 280.36,570.07 284.3,573.88 288.77,577.82 292.84,581.76 297.04,583.86 300.99,582.81 304.66,567.96 309.26,552.33 313.21,547.99 317.67,560.87 321.61,565.47 325.56,570.07 329.89,575.98 333.83,580.45 337.77,581.87 341.93,585.33 346.1,587.14 350.53,578.4 354.42,560.78 358.99,550.66 363.02,556.62 366.9,568.27 371.06,572.85 374.94,576.73 378.97,580.48 383.13,584.36 387.29,586.72 391.45,587.41 395.33,588.11 399.22,579.51 403.65,562.17 407.82,553.43 412.25,559.26 416.14,569.38 420.02,575.62" fill="none" stroke="#ff3c1e" stroke-width="1.0" stroke-linejoin="round"/>
<rect x="257.91" y="548.41" width="3.9" height="3.9" fill="#ff2200"/><rect x="262.25" y="534.87" width="3.9" height="3.9" fill="#ff2200"/><rect x="266.19" y="546.31" width="3.9" height="3.9" fill="#ff2200"/><rect x="270.13" y="556.95" width="3.9" height="3.9" fill="#ff2200"/><rect x="274.47" y="562.47" width="3.9" height="3.9" fill="#ff2200"/><rect x="278.41" y="568.12" width="3.9" height="3.9" fill="#ff2200"/><rect x="282.35" y="571.93" width="3.9" height="3.9" fill="#ff2200"/><rect x="286.82" y="575.87" width="3.9" height="3.9" fill="#ff2200"/><rect x="290.89" y="579.81" width="3.9" height="3.9" fill="#ff2200"/><rect x="295.09" y="581.91" width="3.9" height="3.9" fill="#ff2200"/><rect x="299.04" y="580.86" width="3.9" height="3.9" fill="#ff2200"/><rect x="302.71" y="566.01" width="3.9" height="3.9" fill="#ff2200"/><rect x="307.31" y="550.38" width="3.9" height="3.9" fill="#ff2200"/><rect x="311.26" y="546.04" width="3.9" height="3.9" fill="#ff2200"/><rect x="315.72" y="558.92" width="3.9" height="3.9" fill="#ff2200"/><rect x="319.66" y="563.52" width="3.9" height="3.9" fill="#ff2200"/><rect x="323.61" y="568.12" width="3.9" height="3.9" fill="#ff2200"/><rect x="327.94" y="574.03" width="3.9" height="3.9" fill="#ff2200"/><rect x="331.88" y="578.5" width="3.9" height="3.9" fill="#ff2200"/><rect x="335.82" y="579.92" width="3.9" height="3.9" fill="#ff2200"/><rect x="339.98" y="583.38" width="3.9" height="3.9" fill="#ff2200"/><rect x="344.15" y="585.19" width="3.9" height="3.9" fill="#ff2200"/><rect x="348.58" y="576.45" width="3.9" height="3.9" fill="#ff2200"/><rect x="352.47" y="558.83" width="3.9" height="3.9" fill="#ff2200"/><rect x="357.04" y="548.71" width="3.9" height="3.9" fill="#ff2200"/><rect x="361.07" y="554.67" width="3.9" height="3.9" fill="#ff2200"/><rect x="364.95" y="566.32" width="3.9" height="3.9" fill="#ff2200"/><rect x="369.11" y="570.9" width="3.9" height="3.9" fill="#ff2200"/><rect x="372.99" y="574.78" width="3.9" height="3.9" fill="#ff2200"/><rect x="377.02" y="578.53" width="3.9" height="3.9" fill="#ff2200"/><rect x="381.18" y="582.41" width="3.9" height="3.9" fill="#ff2200"/><rect x="385.34" y="584.77" width="3.9" height="3.9" fill="#ff2200"/><rect x="389.5" y="585.46" width="3.9" height="3.9" fill="#ff2200"/><rect x="393.38" y="586.16" width="3.9" height="3.9" fill="#ff2200"/><rect x="397.27" y="577.56" width="3.9" height="3.9" fill="#ff2200"/><rect x="401.7" y="560.22" width="3.9" height="3.9" fill="#ff2200"/><rect x="405.87" y="551.48" width="3.9" height="3.9" fill="#ff2200"/><rect x="410.3" y="557.31" width="3.9" height="3.9" fill="#ff2200"/><rect x="414.19" y="567.43" width="3.9" height="3.9" fill="#ff2200"/><rect x="418.07" y="573.67" width="3.9" height="3.9" fill="#ff2200"/>
<text x="131.44" y="277.9" font-size="15.41" textLength="87.06" lengthAdjust="spacingAndGlyphs" fill="#000" stroke-width="0.22">MES, pH 6.0</text>
<text x="130.54" y="364.8" font-size="15.41" textLength="87" lengthAdjust="spacingAndGlyphs" fill="#000" stroke-width="0.22">MES, pH 6.5</text>
<text x="119.65" y="450.6" font-size="15.41" textLength="97.88" lengthAdjust="spacingAndGlyphs" fill="#000" stroke-width="0.22">PIPES, pH 6.5</text>
<text x="119.66" y="535" font-size="15.41" textLength="97.84" lengthAdjust="spacingAndGlyphs" fill="#000" stroke-width="0.22">PIPES, pH 7.0</text>
<text x="326.25" y="276.9" font-size="15.41" textLength="98.29" lengthAdjust="spacingAndGlyphs" fill="#000" stroke-width="0.22">PIPES, pH 7.5</text>
<text x="317.55" y="362.9" font-size="15.41" textLength="104.89" lengthAdjust="spacingAndGlyphs" fill="#000" stroke-width="0.22">HEPPS, pH 7.5</text>
<text x="318.64" y="450.9" font-size="15.41" textLength="105.66" lengthAdjust="spacingAndGlyphs" fill="#000" stroke-width="0.22">HEPPS, pH 8.0</text>
<text x="319.25" y="535" font-size="15.41" textLength="104.89" lengthAdjust="spacingAndGlyphs" fill="#000" stroke-width="0.22">HEPPS, pH 8.5</text>
<text x="36.01" y="267.75" font-size="9.6" textLength="14.39" lengthAdjust="spacingAndGlyphs" fill="#000" stroke-width="0.1">1.0</text>
<text x="36.01" y="356.25" font-size="8.88" textLength="14.39" lengthAdjust="spacingAndGlyphs" fill="#000" stroke-width="0.1">1.0</text>
<text x="36.01" y="442.95" font-size="8.88" textLength="14.39" lengthAdjust="spacingAndGlyphs" fill="#000" stroke-width="0.1">1.0</text>
<text x="36.01" y="527.15" font-size="8.31" textLength="14.39" lengthAdjust="spacingAndGlyphs" fill="#000" stroke-width="0.1">1.0</text>
<text x="44.81" y="345.85" font-size="8.88" textLength="5.58" lengthAdjust="spacingAndGlyphs" fill="#000" stroke-width="0.1">0</text>
<text x="44.81" y="432.45" font-size="8.45" textLength="5.58" lengthAdjust="spacingAndGlyphs" fill="#000" stroke-width="0.1">0</text>
<text x="44.81" y="516.95" font-size="8.74" textLength="5.58" lengthAdjust="spacingAndGlyphs" fill="#000" stroke-width="0.1">0</text>
<text x="44.81" y="607.85" font-size="8.74" textLength="5.58" lengthAdjust="spacingAndGlyphs" fill="#000" stroke-width="0.1">0</text>
<text x="242.31" y="268.75" font-size="9.31" textLength="14.39" lengthAdjust="spacingAndGlyphs" fill="#000" stroke-width="0.1">1.0</text>
<text x="242.31" y="356.65" font-size="8.88" textLength="14.39" lengthAdjust="spacingAndGlyphs" fill="#000" stroke-width="0.1">1.0</text>
<text x="242.31" y="444.15" font-size="8.88" textLength="14.39" lengthAdjust="spacingAndGlyphs" fill="#000" stroke-width="0.1">1.0</text>
<text x="242.31" y="527.95" font-size="9.6" textLength="14.39" lengthAdjust="spacingAndGlyphs" fill="#000" stroke-width="0.1">1.0</text>
<text x="251.11" y="346.45" font-size="9.31" textLength="5.58" lengthAdjust="spacingAndGlyphs" fill="#000" stroke-width="0.1">0</text>
<text x="251.11" y="433.65" font-size="8.88" textLength="5.58" lengthAdjust="spacingAndGlyphs" fill="#000" stroke-width="0.1">0</text>
<text x="251.11" y="517.45" font-size="8.45" textLength="5.58" lengthAdjust="spacingAndGlyphs" fill="#000" stroke-width="0.1">0</text>
<text x="251.11" y="608.35" font-size="9.03" textLength="5.58" lengthAdjust="spacingAndGlyphs" fill="#000" stroke-width="0.1">0</text>
<text x="51.13" y="617.3" font-size="9.6" textLength="5.34" lengthAdjust="spacingAndGlyphs" fill="#000" stroke-width="0.1">0</text>
<text x="80.86" y="617.3" font-size="9.6" textLength="10.68" lengthAdjust="spacingAndGlyphs" fill="#000" stroke-width="0.1">24</text>
<text x="114.66" y="617.3" font-size="9.6" textLength="10.68" lengthAdjust="spacingAndGlyphs" fill="#000" stroke-width="0.1">48</text>
<text x="147.86" y="617.3" font-size="9.6" textLength="10.68" lengthAdjust="spacingAndGlyphs" fill="#000" stroke-width="0.1">72</text>
<text x="181.15" y="617.3" font-size="9.6" textLength="10.68" lengthAdjust="spacingAndGlyphs" fill="#000" stroke-width="0.1">96</text>
<text x="212.41" y="617.3" font-size="9.6" textLength="16.02" lengthAdjust="spacingAndGlyphs" fill="#000" stroke-width="0.1">120</text>
<text x="257.03" y="617.3" font-size="9.6" textLength="5.34" lengthAdjust="spacingAndGlyphs" fill="#000" stroke-width="0.1">0</text>
<text x="286.76" y="617.3" font-size="9.6" textLength="10.68" lengthAdjust="spacingAndGlyphs" fill="#000" stroke-width="0.1">24</text>
<text x="320.46" y="617.3" font-size="9.6" textLength="10.68" lengthAdjust="spacingAndGlyphs" fill="#000" stroke-width="0.1">48</text>
<text x="355.06" y="617.3" font-size="9.6" textLength="10.68" lengthAdjust="spacingAndGlyphs" fill="#000" stroke-width="0.1">72</text>
<text x="388.35" y="617.3" font-size="9.6" textLength="10.68" lengthAdjust="spacingAndGlyphs" fill="#000" stroke-width="0.1">96</text>
<text x="418.81" y="617.3" font-size="9.6" textLength="16.02" lengthAdjust="spacingAndGlyphs" fill="#000" stroke-width="0.1">120</text>
<text x="215.52" y="636.9" font-size="17.15" textLength="63.75" lengthAdjust="spacingAndGlyphs" fill="#000" stroke-width="0.22">Time (h)</text>
<text x="462.4" y="22.9" font-size="31.98" textLength="22.92" lengthAdjust="spacingAndGlyphs" fill="#000" stroke-width="0.22">D</text>
<line x1="501.5" y1="30.5" x2="501.5" y2="640.9" stroke="#8a8a8a" stroke-width="1.0"/>
<line x1="670" y1="30.5" x2="670" y2="640.9" stroke="#8a8a8a" stroke-width="1.1"/>
<line x1="563.5" y1="30.5" x2="563.5" y2="640.9" stroke="#858585" stroke-width="1.0"/>
<line x1="501.5" y1="30.5" x2="670" y2="30.5" stroke="#6a6a6a" stroke-width="1.1"/>
<line x1="501.5" y1="640.9" x2="670" y2="640.9" stroke="#6a6a6a" stroke-width="1.1"/>
<line x1="501.5" y1="118.4" x2="670" y2="118.4" stroke="#262626" stroke-width="1.3"/>
<line x1="501.5" y1="204.4" x2="670" y2="204.4" stroke="#262626" stroke-width="1.3"/>
<line x1="501.5" y1="292.9" x2="670" y2="292.9" stroke="#262626" stroke-width="1.3"/>
<line x1="501.5" y1="378.4" x2="670" y2="378.4" stroke="#262626" stroke-width="1.3"/>
<line x1="501.5" y1="466.4" x2="670" y2="466.4" stroke="#262626" stroke-width="1.3"/>
<line x1="501.5" y1="554.9" x2="670" y2="554.9" stroke="#262626" stroke-width="1.3"/>
<line x1="532.14" y1="118.4" x2="532.14" y2="116.9" stroke="#333" stroke-width="0.8"/>
<line x1="562.77" y1="118.4" x2="562.77" y2="116.9" stroke="#333" stroke-width="0.8"/>
<line x1="593.41" y1="118.4" x2="593.41" y2="116.9" stroke="#333" stroke-width="0.8"/>
<line x1="624.05" y1="118.4" x2="624.05" y2="116.9" stroke="#333" stroke-width="0.8"/>
<line x1="654.68" y1="118.4" x2="654.68" y2="116.9" stroke="#333" stroke-width="0.8"/>
<line x1="532.14" y1="204.4" x2="532.14" y2="202.9" stroke="#333" stroke-width="0.8"/>
<line x1="562.77" y1="204.4" x2="562.77" y2="202.9" stroke="#333" stroke-width="0.8"/>
<line x1="593.41" y1="204.4" x2="593.41" y2="202.9" stroke="#333" stroke-width="0.8"/>
<line x1="624.05" y1="204.4" x2="624.05" y2="202.9" stroke="#333" stroke-width="0.8"/>
<line x1="654.68" y1="204.4" x2="654.68" y2="202.9" stroke="#333" stroke-width="0.8"/>
<line x1="532.14" y1="292.9" x2="532.14" y2="291.4" stroke="#333" stroke-width="0.8"/>
<line x1="562.77" y1="292.9" x2="562.77" y2="291.4" stroke="#333" stroke-width="0.8"/>
<line x1="593.41" y1="292.9" x2="593.41" y2="291.4" stroke="#333" stroke-width="0.8"/>
<line x1="624.05" y1="292.9" x2="624.05" y2="291.4" stroke="#333" stroke-width="0.8"/>
<line x1="654.68" y1="292.9" x2="654.68" y2="291.4" stroke="#333" stroke-width="0.8"/>
<line x1="532.14" y1="378.4" x2="532.14" y2="376.9" stroke="#333" stroke-width="0.8"/>
<line x1="562.77" y1="378.4" x2="562.77" y2="376.9" stroke="#333" stroke-width="0.8"/>
<line x1="593.41" y1="378.4" x2="593.41" y2="376.9" stroke="#333" stroke-width="0.8"/>
<line x1="624.05" y1="378.4" x2="624.05" y2="376.9" stroke="#333" stroke-width="0.8"/>
<line x1="654.68" y1="378.4" x2="654.68" y2="376.9" stroke="#333" stroke-width="0.8"/>
<line x1="532.14" y1="466.4" x2="532.14" y2="464.9" stroke="#333" stroke-width="0.8"/>
<line x1="562.77" y1="466.4" x2="562.77" y2="464.9" stroke="#333" stroke-width="0.8"/>
<line x1="593.41" y1="466.4" x2="593.41" y2="464.9" stroke="#333" stroke-width="0.8"/>
<line x1="624.05" y1="466.4" x2="624.05" y2="464.9" stroke="#333" stroke-width="0.8"/>
<line x1="654.68" y1="466.4" x2="654.68" y2="464.9" stroke="#333" stroke-width="0.8"/>
<line x1="532.14" y1="554.9" x2="532.14" y2="553.4" stroke="#333" stroke-width="0.8"/>
<line x1="562.77" y1="554.9" x2="562.77" y2="553.4" stroke="#333" stroke-width="0.8"/>
<line x1="593.41" y1="554.9" x2="593.41" y2="553.4" stroke="#333" stroke-width="0.8"/>
<line x1="624.05" y1="554.9" x2="624.05" y2="553.4" stroke="#333" stroke-width="0.8"/>
<line x1="654.68" y1="554.9" x2="654.68" y2="553.4" stroke="#333" stroke-width="0.8"/>
<line x1="532.14" y1="640.9" x2="532.14" y2="639.4" stroke="#333" stroke-width="0.8"/>
<line x1="562.77" y1="640.9" x2="562.77" y2="639.4" stroke="#333" stroke-width="0.8"/>
<line x1="593.41" y1="640.9" x2="593.41" y2="639.4" stroke="#333" stroke-width="0.8"/>
<line x1="624.05" y1="640.9" x2="624.05" y2="639.4" stroke="#333" stroke-width="0.8"/>
<line x1="654.68" y1="640.9" x2="654.68" y2="639.4" stroke="#333" stroke-width="0.8"/>
<line x1="563.75" y1="18.8" x2="563.75" y2="26" stroke="#000" stroke-width="1.3"/>
<path d="M559.9,24.9L567.6,24.9L563.75,32.0Z" fill="#000"/>
<text x="545.85" y="14.7" font-size="15.41" textLength="34.73" lengthAdjust="spacingAndGlyphs" fill="#000" stroke-width="0.22">Peak</text>
<polyline points="501.2,61.6 505.4,59.3 516.5,71.4 528.3,85 539.7,88.4 551.2,77.9 562.5,63.4 574,70 585.5,81.3 597.1,86.3 608.7,80.4 620.2,68.9 631.6,70.4 643.1,80.8 654.5,86.3 666,79.7 669.5,76.2" fill="none" stroke="#222" stroke-width="1.0" stroke-linejoin="round"/>
<path d="M505.4,57.03L507.5,60.81L503.3,60.81Z" fill="#ffff00" stroke="#333" stroke-width="0.6" stroke-linejoin="miter"/><path d="M516.5,69.13L518.6,72.91L514.4,72.91Z" fill="#ffff00" stroke="#333" stroke-width="0.6" stroke-linejoin="miter"/><path d="M528.3,82.73L530.4,86.51L526.2,86.51Z" fill="#ffff00" stroke="#333" stroke-width="0.6" stroke-linejoin="miter"/><path d="M539.7,86.13L541.8,89.91L537.6,89.91Z" fill="#ffff00" stroke="#333" stroke-width="0.6" stroke-linejoin="miter"/><path d="M551.2,75.63L553.3,79.41L549.1,79.41Z" fill="#ffff00" stroke="#333" stroke-width="0.6" stroke-linejoin="miter"/><path d="M562.5,61.13L564.6,64.91L560.4,64.91Z" fill="#ffff00" stroke="#333" stroke-width="0.6" stroke-linejoin="miter"/><path d="M574,67.73L576.1,71.51L571.9,71.51Z" fill="#ffff00" stroke="#333" stroke-width="0.6" stroke-linejoin="miter"/><path d="M585.5,79.03L587.6,82.81L583.4,82.81Z" fill="#ffff00" stroke="#333" stroke-width="0.6" stroke-linejoin="miter"/><path d="M597.1,84.03L599.2,87.81L595,87.81Z" fill="#ffff00" stroke="#333" stroke-width="0.6" stroke-linejoin="miter"/><path d="M608.7,78.13L610.8,81.91L606.6,81.91Z" fill="#ffff00" stroke="#333" stroke-width="0.6" stroke-linejoin="miter"/><path d="M620.2,66.63L622.3,70.41L618.1,70.41Z" fill="#ffff00" stroke="#333" stroke-width="0.6" stroke-linejoin="miter"/><path d="M631.6,68.13L633.7,71.91L629.5,71.91Z" fill="#ffff00" stroke="#333" stroke-width="0.6" stroke-linejoin="miter"/><path d="M643.1,78.53L645.2,82.31L641,82.31Z" fill="#ffff00" stroke="#333" stroke-width="0.6" stroke-linejoin="miter"/><path d="M654.5,84.03L656.6,87.81L652.4,87.81Z" fill="#ffff00" stroke="#333" stroke-width="0.6" stroke-linejoin="miter"/><path d="M666,77.43L668.1,81.21L663.9,81.21Z" fill="#ffff00" stroke="#333" stroke-width="0.6" stroke-linejoin="miter"/>
<polyline points="501.2,152.6 505,156.1 516.5,169.3 528,174.5 539.4,165.2 550.9,152.1 562.5,147.1 573.8,159 584.9,170.4 596.2,171.5 607.7,161.6 619.5,149.1 630.9,151.4 642.4,163.4 653.8,177.3 665.3,170.4 669.5,167.3" fill="none" stroke="#4a78e0" stroke-width="1.0" stroke-linejoin="round"/>
<circle cx="505" cy="156.1" r="2.4" fill="#0033ff" stroke="none" stroke-width="0"/><circle cx="516.5" cy="169.3" r="2.4" fill="#0033ff" stroke="none" stroke-width="0"/><circle cx="528" cy="174.5" r="2.4" fill="#0033ff" stroke="none" stroke-width="0"/><circle cx="539.4" cy="165.2" r="2.4" fill="#0033ff" stroke="none" stroke-width="0"/><circle cx="550.9" cy="152.1" r="2.4" fill="#0033ff" stroke="none" stroke-width="0"/><circle cx="562.5" cy="147.1" r="2.4" fill="#0033ff" stroke="none" stroke-width="0"/><circle cx="573.8" cy="159" r="2.4" fill="#0033ff" stroke="none" stroke-width="0"/><circle cx="584.9" cy="170.4" r="2.4" fill="#0033ff" stroke="none" stroke-width="0"/><circle cx="596.2" cy="171.5" r="2.4" fill="#0033ff" stroke="none" stroke-width="0"/><circle cx="607.7" cy="161.6" r="2.4" fill="#0033ff" stroke="none" stroke-width="0"/><circle cx="619.5" cy="149.1" r="2.4" fill="#0033ff" stroke="none" stroke-width="0"/><circle cx="630.9" cy="151.4" r="2.4" fill="#0033ff" stroke="none" stroke-width="0"/><circle cx="642.4" cy="163.4" r="2.4" fill="#0033ff" stroke="none" stroke-width="0"/><circle cx="653.8" cy="177.3" r="2.4" fill="#0033ff" stroke="none" stroke-width="0"/><circle cx="665.3" cy="170.4" r="2.4" fill="#0033ff" stroke="none" stroke-width="0"/>
<polyline points="501.2,247.7 511.4,262 522.7,270.6 534.3,268.3 545.9,247.5 557.4,231.4 568.5,230.7 580.5,247.7 591.8,262.7 603.3,273.1 614.7,268.3 626.5,247.5 637.8,232.2 648.4,233.2 660,251.6 669.5,263.7" fill="none" stroke="#4a78e0" stroke-width="1.0" stroke-linejoin="round"/>
<path d="M511.4,259.84L513.4,263.44L509.4,263.44Z" fill="#fff" stroke="#2f6cf0" stroke-width="0.85" stroke-linejoin="miter"/><path d="M522.7,268.44L524.7,272.04L520.7,272.04Z" fill="#fff" stroke="#2f6cf0" stroke-width="0.85" stroke-linejoin="miter"/><path d="M534.3,266.14L536.3,269.74L532.3,269.74Z" fill="#fff" stroke="#2f6cf0" stroke-width="0.85" stroke-linejoin="miter"/><path d="M545.9,245.34L547.9,248.94L543.9,248.94Z" fill="#fff" stroke="#2f6cf0" stroke-width="0.85" stroke-linejoin="miter"/><path d="M557.4,229.24L559.4,232.84L555.4,232.84Z" fill="#fff" stroke="#2f6cf0" stroke-width="0.85" stroke-linejoin="miter"/><path d="M568.5,228.54L570.5,232.14L566.5,232.14Z" fill="#fff" stroke="#2f6cf0" stroke-width="0.85" stroke-linejoin="miter"/><path d="M580.5,245.54L582.5,249.14L578.5,249.14Z" fill="#fff" stroke="#2f6cf0" stroke-width="0.85" stroke-linejoin="miter"/><path d="M591.8,260.54L593.8,264.14L589.8,264.14Z" fill="#fff" stroke="#2f6cf0" stroke-width="0.85" stroke-linejoin="miter"/><path d="M603.3,270.94L605.3,274.54L601.3,274.54Z" fill="#fff" stroke="#2f6cf0" stroke-width="0.85" stroke-linejoin="miter"/><path d="M614.7,266.14L616.7,269.74L612.7,269.74Z" fill="#fff" stroke="#2f6cf0" stroke-width="0.85" stroke-linejoin="miter"/><path d="M626.5,245.34L628.5,248.94L624.5,248.94Z" fill="#fff" stroke="#2f6cf0" stroke-width="0.85" stroke-linejoin="miter"/><path d="M637.8,230.04L639.8,233.64L635.8,233.64Z" fill="#fff" stroke="#2f6cf0" stroke-width="0.85" stroke-linejoin="miter"/><path d="M648.4,231.04L650.4,234.64L646.4,234.64Z" fill="#fff" stroke="#2f6cf0" stroke-width="0.85" stroke-linejoin="miter"/><path d="M660,249.44L662,253.04L658,253.04Z" fill="#fff" stroke="#2f6cf0" stroke-width="0.85" stroke-linejoin="miter"/>
<polyline points="501.2,342.4 504.4,345.5 516.1,355.6 527.6,364.6 539,356.6 550.5,333.4 562,317.5 573.4,322.8 584.9,338.7 596.4,352.2 607.7,360.5 619.3,364.4 630.6,352.6 642.4,330.9 653.9,318.2 665.3,328.6 669.5,333.4" fill="none" stroke="#0033ff" stroke-width="1.0" stroke-linejoin="round"/>
<rect x="502.1" y="343.2" width="4.6" height="4.6" fill="#0033ff"/><rect x="513.8" y="353.3" width="4.6" height="4.6" fill="#0033ff"/><rect x="525.3" y="362.3" width="4.6" height="4.6" fill="#0033ff"/><rect x="536.7" y="354.3" width="4.6" height="4.6" fill="#0033ff"/><rect x="548.2" y="331.1" width="4.6" height="4.6" fill="#0033ff"/><rect x="559.7" y="315.2" width="4.6" height="4.6" fill="#0033ff"/><rect x="571.1" y="320.5" width="4.6" height="4.6" fill="#0033ff"/><rect x="582.6" y="336.4" width="4.6" height="4.6" fill="#0033ff"/><rect x="594.1" y="349.9" width="4.6" height="4.6" fill="#0033ff"/><rect x="605.4" y="358.2" width="4.6" height="4.6" fill="#0033ff"/><rect x="617" y="362.1" width="4.6" height="4.6" fill="#0033ff"/><rect x="628.3" y="350.3" width="4.6" height="4.6" fill="#0033ff"/><rect x="640.1" y="328.6" width="4.6" height="4.6" fill="#0033ff"/><rect x="651.6" y="315.9" width="4.6" height="4.6" fill="#0033ff"/><rect x="663" y="326.3" width="4.6" height="4.6" fill="#0033ff"/>
<polyline points="501.2,426.3 504.7,430.5 516.2,440.2 527.6,447.1 539.4,439 550.8,416.1 562.3,402.1 573.6,408.4 585.2,425.4 596.6,439 608.2,444.1 619.5,447.6 631,426.5 642.7,408 654.2,403.5 665.6,421.2 669.5,426.3" fill="none" stroke="#ff2200" stroke-width="1.0" stroke-linejoin="round"/>
<circle cx="504.7" cy="430.5" r="2.4" fill="#ff2200" stroke="none" stroke-width="0"/><circle cx="516.2" cy="440.2" r="2.4" fill="#ff2200" stroke="none" stroke-width="0"/><circle cx="527.6" cy="447.1" r="2.4" fill="#ff2200" stroke="none" stroke-width="0"/><circle cx="539.4" cy="439" r="2.4" fill="#ff2200" stroke="none" stroke-width="0"/><circle cx="550.8" cy="416.1" r="2.4" fill="#ff2200" stroke="none" stroke-width="0"/><circle cx="562.3" cy="402.1" r="2.4" fill="#ff2200" stroke="none" stroke-width="0"/><circle cx="573.6" cy="408.4" r="2.4" fill="#ff2200" stroke="none" stroke-width="0"/><circle cx="585.2" cy="425.4" r="2.4" fill="#ff2200" stroke="none" stroke-width="0"/><circle cx="596.6" cy="439" r="2.4" fill="#ff2200" stroke="none" stroke-width="0"/><circle cx="608.2" cy="444.1" r="2.4" fill="#ff2200" stroke="none" stroke-width="0"/><circle cx="619.5" cy="447.6" r="2.4" fill="#ff2200" stroke="none" stroke-width="0"/><circle cx="631" cy="426.5" r="2.4" fill="#ff2200" stroke="none" stroke-width="0"/><circle cx="642.7" cy="408" r="2.4" fill="#ff2200" stroke="none" stroke-width="0"/><circle cx="654.2" cy="403.5" r="2.4" fill="#ff2200" stroke="none" stroke-width="0"/><circle cx="665.6" cy="421.2" r="2.4" fill="#ff2200" stroke="none" stroke-width="0"/>
<polyline points="501.2,530.2 505.8,532.3 517.5,537.4 529,534.9 540.5,518.4 551.9,500.9 563.4,496.9 574.5,511.5 586.1,519.4 597.6,525.6 609.1,531.9 620.2,537.4 631.6,538.8 643.1,530.8 654.9,511.8 666.3,500.4 669.5,501.4" fill="none" stroke="#ff2200" stroke-width="1.0" stroke-linejoin="round"/>
<path d="M505.8,530.14L507.8,533.74L503.8,533.74Z" fill="#fff" stroke="#ff4a30" stroke-width="0.85" stroke-linejoin="miter"/><path d="M517.5,535.24L519.5,538.84L515.5,538.84Z" fill="#fff" stroke="#ff4a30" stroke-width="0.85" stroke-linejoin="miter"/><path d="M529,532.74L531,536.34L527,536.34Z" fill="#fff" stroke="#ff4a30" stroke-width="0.85" stroke-linejoin="miter"/><path d="M540.5,516.24L542.5,519.84L538.5,519.84Z" fill="#fff" stroke="#ff4a30" stroke-width="0.85" stroke-linejoin="miter"/><path d="M551.9,498.74L553.9,502.34L549.9,502.34Z" fill="#fff" stroke="#ff4a30" stroke-width="0.85" stroke-linejoin="miter"/><path d="M563.4,494.74L565.4,498.34L561.4,498.34Z" fill="#fff" stroke="#ff4a30" stroke-width="0.85" stroke-linejoin="miter"/><path d="M574.5,509.34L576.5,512.94L572.5,512.94Z" fill="#fff" stroke="#ff4a30" stroke-width="0.85" stroke-linejoin="miter"/><path d="M586.1,517.24L588.1,520.84L584.1,520.84Z" fill="#fff" stroke="#ff4a30" stroke-width="0.85" stroke-linejoin="miter"/><path d="M597.6,523.44L599.6,527.04L595.6,527.04Z" fill="#fff" stroke="#ff4a30" stroke-width="0.85" stroke-linejoin="miter"/><path d="M609.1,529.74L611.1,533.34L607.1,533.34Z" fill="#fff" stroke="#ff4a30" stroke-width="0.85" stroke-linejoin="miter"/><path d="M620.2,535.24L622.2,538.84L618.2,538.84Z" fill="#fff" stroke="#ff4a30" stroke-width="0.85" stroke-linejoin="miter"/><path d="M631.6,536.64L633.6,540.24L629.6,540.24Z" fill="#fff" stroke="#ff4a30" stroke-width="0.85" stroke-linejoin="miter"/><path d="M643.1,528.64L645.1,532.24L641.1,532.24Z" fill="#fff" stroke="#ff4a30" stroke-width="0.85" stroke-linejoin="miter"/><path d="M654.9,509.64L656.9,513.24L652.9,513.24Z" fill="#fff" stroke="#ff4a30" stroke-width="0.85" stroke-linejoin="miter"/><path d="M666.3,498.24L668.3,501.84L664.3,501.84Z" fill="#fff" stroke="#ff4a30" stroke-width="0.85" stroke-linejoin="miter"/>
<polyline points="501.2,617 505.4,617.4 516.9,619.8 528.3,618.4 539.8,603.8 551.2,589 562.7,584.4 574.3,596.9 585.6,601.3 597.3,605.5 608.7,611.7 620.2,616.6 631.6,618.1 642.7,620.9 654.2,623.3 665.6,614.2 669.5,608.7" fill="none" stroke="#ff2200" stroke-width="1.0" stroke-linejoin="round"/>
<rect x="503.1" y="615.1" width="4.6" height="4.6" fill="#ff2200"/><rect x="514.6" y="617.5" width="4.6" height="4.6" fill="#ff2200"/><rect x="526" y="616.1" width="4.6" height="4.6" fill="#ff2200"/><rect x="537.5" y="601.5" width="4.6" height="4.6" fill="#ff2200"/><rect x="548.9" y="586.7" width="4.6" height="4.6" fill="#ff2200"/><rect x="560.4" y="582.1" width="4.6" height="4.6" fill="#ff2200"/><rect x="572" y="594.6" width="4.6" height="4.6" fill="#ff2200"/><rect x="583.3" y="599" width="4.6" height="4.6" fill="#ff2200"/><rect x="595" y="603.2" width="4.6" height="4.6" fill="#ff2200"/><rect x="606.4" y="609.4" width="4.6" height="4.6" fill="#ff2200"/><rect x="617.9" y="614.3" width="4.6" height="4.6" fill="#ff2200"/><rect x="629.3" y="615.8" width="4.6" height="4.6" fill="#ff2200"/><rect x="640.4" y="618.6" width="4.6" height="4.6" fill="#ff2200"/><rect x="651.9" y="621" width="4.6" height="4.6" fill="#ff2200"/><rect x="663.3" y="611.9" width="4.6" height="4.6" fill="#ff2200"/>
<text x="581.54" y="50.7" font-size="15.55" textLength="87.41" lengthAdjust="spacingAndGlyphs" fill="#000" stroke-width="0.22">MES, pH 6.5</text>
<text x="570.65" y="137.5" font-size="15.55" textLength="98.29" lengthAdjust="spacingAndGlyphs" fill="#000" stroke-width="0.22">PIPES, pH 6.5</text>
<text x="570.65" y="222" font-size="15.55" textLength="98.25" lengthAdjust="spacingAndGlyphs" fill="#000" stroke-width="0.22">PIPES, pH 7.0</text>
<text x="571.85" y="310" font-size="15.55" textLength="98.09" lengthAdjust="spacingAndGlyphs" fill="#000" stroke-width="0.22">PIPES, pH 7.5</text>
<text x="564.85" y="393" font-size="15.55" textLength="105.09" lengthAdjust="spacingAndGlyphs" fill="#000" stroke-width="0.22">HEPPS, pH 7.5</text>
<text x="564.85" y="485" font-size="15.55" textLength="105.05" lengthAdjust="spacingAndGlyphs" fill="#000" stroke-width="0.22">HEPPS, pH 8.0</text>
<text x="564.55" y="571.6" font-size="15.55" textLength="105.4" lengthAdjust="spacingAndGlyphs" fill="#000" stroke-width="0.22">HEPPS, pH 8.5</text>
<text x="483.21" y="37.85" font-size="9.31" textLength="14.39" lengthAdjust="spacingAndGlyphs" fill="#000" stroke-width="0.1">1.0</text>
<text x="483.21" y="128.55" font-size="9.03" textLength="14.39" lengthAdjust="spacingAndGlyphs" fill="#000" stroke-width="0.1">1.0</text>
<text x="483.21" y="213.85" font-size="9.6" textLength="14.39" lengthAdjust="spacingAndGlyphs" fill="#000" stroke-width="0.1">1.0</text>
<text x="483.21" y="300.85" font-size="9.03" textLength="14.39" lengthAdjust="spacingAndGlyphs" fill="#000" stroke-width="0.1">1.0</text>
<text x="483.21" y="387.65" font-size="8.88" textLength="14.39" lengthAdjust="spacingAndGlyphs" fill="#000" stroke-width="0.1">1.0</text>
<text x="483.21" y="473.45" font-size="8.88" textLength="14.39" lengthAdjust="spacingAndGlyphs" fill="#000" stroke-width="0.1">1.0</text>
<text x="483.21" y="563.35" font-size="9.31" textLength="14.39" lengthAdjust="spacingAndGlyphs" fill="#000" stroke-width="0.1">1.0</text>
<text x="492.21" y="117.85" font-size="8.88" textLength="5.58" lengthAdjust="spacingAndGlyphs" fill="#000" stroke-width="0.1">0</text>
<text x="492.21" y="202.75" font-size="8.74" textLength="5.58" lengthAdjust="spacingAndGlyphs" fill="#000" stroke-width="0.1">0</text>
<text x="492.21" y="290.65" font-size="8.31" textLength="5.58" lengthAdjust="spacingAndGlyphs" fill="#000" stroke-width="0.1">0</text>
<text x="492.21" y="377.15" font-size="8.88" textLength="5.58" lengthAdjust="spacingAndGlyphs" fill="#000" stroke-width="0.1">0</text>
<text x="492.21" y="462.85" font-size="8.74" textLength="5.58" lengthAdjust="spacingAndGlyphs" fill="#000" stroke-width="0.1">0</text>
<text x="492.21" y="552.75" font-size="9.31" textLength="5.58" lengthAdjust="spacingAndGlyphs" fill="#000" stroke-width="0.1">0</text>
<text x="492.21" y="640.15" font-size="8.74" textLength="5.58" lengthAdjust="spacingAndGlyphs" fill="#000" stroke-width="0.1">0</text>
<text x="500.19" y="652" font-size="11.17" textLength="6.21" lengthAdjust="spacingAndGlyphs" fill="#000" stroke-width="0.1">0</text>
<text x="528.09" y="652" font-size="11.17" textLength="6.21" lengthAdjust="spacingAndGlyphs" fill="#000" stroke-width="0.1">8</text>
<text x="556.81" y="652" font-size="11.17" textLength="12.43" lengthAdjust="spacingAndGlyphs" fill="#000" stroke-width="0.1">16</text>
<text x="588.57" y="652" font-size="11.17" textLength="12.43" lengthAdjust="spacingAndGlyphs" fill="#000" stroke-width="0.1">24</text>
<text x="618.55" y="652" font-size="11.17" textLength="12.43" lengthAdjust="spacingAndGlyphs" fill="#000" stroke-width="0.1">32</text>
<text x="649.08" y="652" font-size="11.17" textLength="12.43" lengthAdjust="spacingAndGlyphs" fill="#000" stroke-width="0.1">40</text>
<text x="665.62" y="652" font-size="11.17" textLength="12.43" lengthAdjust="spacingAndGlyphs" fill="#000" stroke-width="0.1">44</text>
<text x="481.51" y="675.4" font-size="18.17" textLength="202.97" lengthAdjust="spacingAndGlyphs" fill="#000" stroke-width="0.22">Time as a peak at 16 h (h)</text>
<g transform="rotate(-90)"><text x="-409.99" y="475.9" font-size="18.46" textLength="124.88" lengthAdjust="spacingAndGlyphs" fill="#000" stroke-width="0.22">Ratio of P-KaiC</text></g>
</svg>
</body></html>
